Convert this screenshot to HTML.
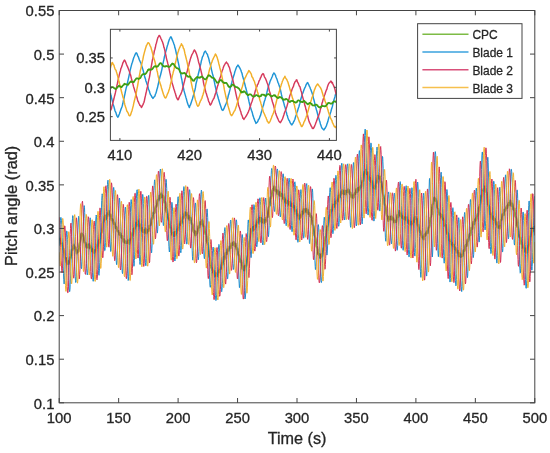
<!DOCTYPE html>
<html><head><meta charset="utf-8"><title>Pitch angle</title><style>html,body{margin:0;padding:0;background:#fff;}body{width:550px;height:453px;overflow:hidden;}svg{display:block;}</style></head><body><div id="w">
<svg width="550" height="453" viewBox="0 0 550 453">
<defs><clipPath id="cm"><rect x="59.2" y="10.5" width="475.6" height="392.3"/></clipPath><clipPath id="ci"><rect x="110.4" y="29.3" width="226.0" height="111.1"/></clipPath></defs>
<g clip-path="url(#cm)" fill="none" stroke-width="0.95" stroke-linejoin="round">
<path d="M59.2 240.2L59.5 238.9L59.7 238.8L60 238.5L60.2 239.6L60.5 241L60.7 243.1L61 243.7L61.2 243.4L61.5 242.8L61.7 242.7L62 243.1L62.2 244.4L62.5 246.3L62.7 246.2L63 248.7L63.2 249.4L63.5 249.5L63.7 248.8L64 251.4L64.2 252.9L64.5 254.9L64.7 257.4L65 258.2L65.2 258.1L65.5 258.4L65.7 257.8L66 258L66.2 259.9L66.5 261.9L66.7 262.6L67 264L67.2 262.1L67.5 262.6L67.7 261.6L68 261L68.2 262.5L68.5 264.2L68.7 263.9L69 262.7L69.2 261.8L69.5 261L69.7 257.9L70 258.5L70.2 258.5L70.5 258.6L70.7 257.8L71 256.1L71.2 254.3L71.5 251.8L71.7 249.5L72 250.4L72.2 249.2L72.5 250.3L72.7 249.6L73 248.8L73.2 246.6L73.5 245.5L73.7 244.5L74 245.6L74.2 246.5L74.5 248.6L74.7 247.6L75 248.3L75.2 247.4L75.5 247.1L75.7 247.6L76 249.8L76.2 250.8L76.5 252.3L76.7 253.7L77 251.9L77.2 252.2L77.5 250.5L77.7 250.7L78 251.2L78.2 252L78.5 251.5L78.7 250.1L79 247.9L79.2 245.9L79.5 244L79.7 243L80 242.2L80.2 241.7L80.5 240L80.7 239.3L81 237L81.2 234L81.5 233.3L81.7 233.4L82 233.7L82.2 235.3L82.5 235.7L82.7 234.7L83 235L83.2 235L83.5 236.3L83.7 237.4L84 239.8L84.2 241.4L84.5 242.7L84.7 242.7L85 242.6L85.2 242.3L85.5 242.6L85.7 244.1L86 245.7L86.2 246.8L86.5 247.6L86.7 244.7L87 244.8L87.2 244.4L87.5 245L87.7 245L88 246.9L88.2 247.8L88.5 246.9L88.7 245.1L89 244.7L89.2 243.8L89.5 245.3L89.7 245.8L90 248.5L90.2 248.4L90.5 247.8L90.7 247.1L91 246.1L91.2 246.9L91.5 248.5L91.7 249.2L92 251.3L92.2 251L92.5 251.3L92.7 251.5L93 249L93.2 250.5L93.5 251.5L93.7 251.5L94 252.8L94.2 253.1L94.5 253.2L94.7 251L95 249.9L95.2 249.9L95.5 250L95.7 250.7L96 250.6L96.2 250.5L96.5 247.9L96.7 247.3L97 244.9L97.2 244.3L97.5 245.4L97.7 245.9L98 244.6L98.2 244.7L98.5 242.2L98.7 240.8L99 240.7L99.2 240L99.5 241.4L99.7 241.7L100 242.8L100.2 240.4L100.5 237.6L100.7 235.2L101 233.5L101.2 233.1L101.5 232.7L101.7 232.7L102 231L102.2 228.7L102.5 226.1L102.7 223.4L103 222.1L103.2 221.9L103.5 222.1L103.7 221.3L104 219.9L104.2 219L104.5 218L104.7 215.5L105 216.4L105.2 217.7L105.5 218.3L105.7 218.7L106 219.6L106.2 218L106.5 215.4L106.7 214.9L107 214.6L107.2 213.8L107.5 216.4L107.7 214.7L108 214.3L108.2 212.6L108.5 211.9L108.7 210.6L109 211.7L109.2 213.5L109.5 214.5L109.7 215.1L110 216L110.2 214.3L110.5 214.8L110.7 214.5L111 216.1L111.2 217.9L111.5 219.7L111.7 220.5L112 220L112.2 219.3L112.5 219.2L112.7 219.2L113 219.8L113.2 221.7L113.5 223.1L113.7 224L114 223.8L114.2 223.1L114.5 222.4L114.7 223.4L115 224.3L115.2 225.4L115.5 228.2L115.7 227.7L116 227.6L116.2 226.7L116.5 227.3L116.7 227.1L117 229.3L117.2 230.6L117.5 231.3L117.7 231.2L118 231.6L118.2 230.8L118.5 230.9L118.7 232.3L119 233.1L119.2 234.6L119.5 235.2L119.7 235.2L120 234.1L120.2 233L120.5 234.5L120.7 233.5L121 236.1L121.2 237.5L121.5 238L121.7 237.1L122 236.7L122.2 236L122.5 236L122.7 237.9L123 239.4L123.2 240.8L123.5 242L123.7 240.7L124 240.6L124.2 239.5L124.5 240.3L124.7 241.3L125 242.8L125.2 243.1L125.5 243.2L125.7 242.2L126 241.6L126.2 241.2L126.5 241.6L126.7 241.9L127 243.4L127.2 243.1L127.5 242.4L127.7 242L128 240.8L128.2 239.8L128.4 240.1L128.7 242.4L128.9 242.8L129.2 242.7L129.4 244L129.7 241.5L129.9 239.7L130.2 239.3L130.4 238.5L130.7 240.3L130.9 239.1L131.2 238.8L131.4 237.9L131.7 235.7L131.9 235.1L132.2 232.8L132.4 233.3L132.7 234.3L132.9 234.7L133.2 234.2L133.4 232.3L133.7 231.3L133.9 228.3L134.2 228L134.4 228.5L134.7 228.5L134.9 228.7L135.2 227.9L135.4 226.3L135.7 224.3L135.9 223.4L136.2 222.7L136.4 224.2L136.7 223.9L136.9 225.9L137.2 224.9L137.4 223.1L137.7 221.1L137.9 220.4L138.2 221.9L138.4 222.9L138.7 224.8L138.9 225.2L139.2 226.2L139.4 224.8L139.7 224.8L139.9 224.1L140.2 225.9L140.4 228.2L140.7 229.3L140.9 230L141.2 230.4L141.4 229.2L141.7 229.3L141.9 227.7L142.2 230.3L142.4 231.7L142.7 231.8L142.9 232L143.2 232.3L143.4 230.2L143.7 229.6L143.9 230.3L144.2 230.8L144.4 232.4L144.7 232.5L144.9 232.8L145.2 232.1L145.4 230.5L145.7 228.5L145.9 230.2L146.2 231L146.4 231.8L146.7 233.5L146.9 231.6L147.2 232.3L147.4 229.9L147.7 230.3L147.9 229.7L148.2 229.8L148.4 231.1L148.7 231L148.9 229.9L149.2 228.3L149.4 225.6L149.7 225.3L149.9 225.4L150.2 225.4L150.4 225.5L150.7 225L150.9 224.3L151.2 222.1L151.4 219.4L151.7 218L151.9 219.2L152.2 218.1L152.4 218.9L152.7 217.6L152.9 215.4L153.2 214.2L153.4 212.4L153.7 212.6L153.9 213.2L154.2 212.5L154.4 213.2L154.7 212.4L154.9 209.9L155.2 207.8L155.4 207.6L155.7 206.1L155.9 206.6L156.2 206.9L156.4 206.8L156.7 205.5L156.9 204.3L157.2 202.6L157.4 200.5L157.7 199.7L157.9 200.8L158.2 200.5L158.4 200.6L158.7 200.4L158.9 199.3L159.2 196.8L159.4 195.3L159.7 196.5L159.9 195.9L160.2 197.4L160.4 198.4L160.7 197L160.9 194.5L161.2 193.2L161.4 194.2L161.7 194.5L161.9 195.7L162.2 197.3L162.4 197.3L162.7 196.1L162.9 196.7L163.2 195.6L163.4 196.1L163.7 197.5L163.9 200.2L164.2 201.2L164.4 202.5L164.7 201.8L164.9 202.1L165.2 201.6L165.4 202.8L165.7 204.3L165.9 207.2L166.2 209.9L166.4 212L166.7 210.1L166.9 210.3L167.2 211.8L167.4 213.5L167.7 215.3L167.9 217.9L168.2 218.5L168.4 219.7L168.7 220.1L168.9 220.4L169.2 220.2L169.4 221.9L169.7 224.5L169.9 227L170.2 227.9L170.4 227.6L170.7 227.8L170.9 228L171.2 227.8L171.4 229.1L171.7 232.1L171.9 233.8L172.2 234.9L172.4 234.3L172.7 233.2L172.9 232.9L173.2 232.8L173.4 233.8L173.7 235.1L173.9 235.8L174.2 236.3L174.4 234L174.7 233.1L174.9 232L175.2 233.1L175.4 233.3L175.7 233.9L175.9 234.8L176.2 233.6L176.4 231.7L176.7 230.9L176.9 229.4L177.2 229.7L177.4 230L177.7 230.3L177.9 229.8L178.2 228.1L178.4 227.2L178.7 225.1L178.9 224.4L179.2 224.1L179.4 224.4L179.7 224.8L179.9 225.5L180.2 224.7L180.4 222.3L180.7 221.4L180.9 221.3L181.2 220.7L181.4 221.8L181.7 222L181.9 222.8L182.2 221L182.4 218.9L182.7 216.8L182.9 217L183.2 217.9L183.4 217.9L183.7 218L183.9 217.7L184.2 215.2L184.4 214L184.7 213L184.9 212.1L185.2 212.8L185.4 214.5L185.7 215L185.9 214.8L186.2 214.3L186.4 213.4L186.7 212.7L186.9 213.6L187.2 215.6L187.4 217.5L187.7 218.4L187.9 217L188.2 217L188.4 216L188.7 215.5L188.9 216.6L189.2 218.2L189.4 220L189.7 219.1L189.9 219.4L190.2 218.1L190.4 217.3L190.7 218.3L190.9 219.5L191.2 220.6L191.4 222.8L191.7 224L191.9 223.4L192.2 224.3L192.4 224L192.7 225.2L192.9 227.3L193.2 230.4L193.4 231.3L193.7 231.9L193.9 232.6L194.2 230.8L194.4 230.6L194.7 230.8L194.9 233.5L195.2 234.6L195.4 235.7L195.7 235.4L195.9 234.2L196.2 232.5L196.4 231.6L196.7 232L196.9 232.4L197.2 233.6L197.4 232.2L197.7 231.1L197.9 229L198.2 228.4L198.4 226.1L198.7 227L198.9 227.9L199.2 227.5L199.4 227.6L199.7 225L199.9 224.1L200.2 222L200.4 222.3L200.7 222.6L200.9 223.1L201.2 224.4L201.4 223.8L201.7 222.3L201.9 221L202.2 219.9L202.4 220.9L202.7 223.5L202.9 223.9L203.2 225.9L203.4 226.1L203.7 226.6L203.9 226.1L204.2 226L204.4 226.4L204.7 229.1L204.9 232.1L205.2 233L205.4 234L205.7 233.4L205.9 232.5L206.2 234.3L206.4 235.9L206.7 237.9L206.9 240.5L207.2 242.6L207.4 243L207.7 243.8L207.9 244.1L208.2 244.5L208.4 248L208.7 250.8L208.9 253.5L209.2 256.1L209.4 256.7L209.7 257.6L209.9 258.4L210.2 259.3L210.4 260.8L210.7 263.9L210.9 267.1L211.2 267.8L211.4 267.7L211.7 267.6L211.9 267.7L212.2 268.2L212.4 269.8L212.7 270.9L212.9 272.5L213.2 272.8L213.4 272.4L213.7 270.6L213.9 271.2L214.2 271.3L214.4 273.9L214.7 275.4L214.9 276.3L215.2 275.7L215.4 274.1L215.7 273.8L215.9 272.8L216.2 273.8L216.4 274.2L216.7 275.5L216.9 276.2L217.2 276L217.4 273.5L217.7 273.2L217.9 272.6L218.2 270.8L218.4 272.2L218.7 272.4L218.9 272.6L219.2 271.2L219.4 269.8L219.7 268.8L219.9 268.1L220.2 268.1L220.4 268.7L220.7 269.2L220.9 268.7L221.2 267.5L221.4 265.4L221.7 264.1L221.9 262.5L222.2 263.8L222.4 264.8L222.7 264.2L222.9 262.5L223.2 262.2L223.4 259.4L223.7 256.7L223.9 257.6L224.2 258.4L224.4 258.8L224.7 259.2L224.9 257.9L225.2 256L225.4 253.2L225.7 252.6L225.9 253.2L226.2 254.1L226.4 254L226.7 254.2L226.9 253.7L227.2 250.8L227.4 249.2L227.7 249.3L227.9 249.7L228.2 250.2L228.4 250L228.7 251L228.9 249.2L229.2 248.6L229.4 246.8L229.7 246.4L229.9 246.9L230.2 247.2L230.4 248.3L230.7 248.2L230.9 246.5L231.2 245.3L231.4 243.2L231.7 243.6L231.9 243.9L232.2 244.2L232.4 245.1L232.7 244.5L232.9 243.3L233.2 242.3L233.4 242.2L233.7 241.9L233.9 243.5L234.2 244.1L234.4 245.8L234.7 246.2L234.9 245.2L235.2 244.1L235.4 243.4L235.7 244L235.9 246L236.2 247.2L236.4 248.4L236.7 249.6L236.9 248.3L237.2 249.3L237.4 248.1L237.7 250.4L237.9 251.7L238.2 254.2L238.4 254.8L238.7 255.5L238.9 255.1L239.2 254.9L239.4 256.1L239.7 258.3L239.9 259.3L240.2 261.8L240.4 262.2L240.7 262L240.9 262.5L241.2 260.1L241.4 261.5L241.7 262.5L241.9 265.1L242.2 266.5L242.4 268.9L242.7 266.7L242.9 266.8L243.2 266.4L243.4 266.3L243.7 268.3L243.9 270.5L244.2 270.6L244.4 270.1L244.7 268.8L244.9 266.2L245.2 265.4L245.4 265.9L245.7 266.5L245.9 266.4L246.2 266.5L246.4 265.3L246.7 263L246.9 260.9L247.2 258.6L247.4 257.4L247.7 255.9L247.9 255.1L248.2 254L248.4 250.3L248.7 247.8L248.9 244.2L249.2 241.7L249.4 241L249.7 239.4L249.9 238.2L250.2 236.5L250.4 234.4L250.7 233.3L250.9 229L251.2 229.3L251.4 229.6L251.7 231L251.9 230.9L252.2 229.5L252.4 230.2L252.7 227.6L252.9 227.2L253.2 226.6L253.4 227.7L253.7 229L253.9 230.1L254.2 229.6L254.4 227.5L254.7 226.6L254.9 225.3L255.2 225.7L255.4 226.4L255.7 227.4L255.9 226.7L256.2 225.9L256.4 224.3L256.7 222.6L256.9 221.3L257.2 222.6L257.4 222.2L257.7 223.4L257.9 222.8L258.2 222L258.4 218.6L258.7 219.2L258.9 217.6L259.2 217.7L259.4 219.5L259.7 221.6L259.9 220.9L260.2 219.3L260.4 218.6L260.7 218.7L260.9 217.6L261.2 219.3L261.4 220.6L261.7 222.8L261.9 221.5L262.2 221.5L262.4 219.4L262.7 218.9L262.9 220.2L263.2 221.3L263.4 221.5L263.7 223.4L263.9 223L264.2 221.2L264.4 220.3L264.7 219.7L264.9 219.6L265.2 220.6L265.4 221.6L265.7 222.1L265.9 220.8L266.2 220L266.4 217.7L266.7 217.4L266.9 217L267.2 216.7L267.4 217.5L267.7 216.9L267.9 214.6L268.2 210.6L268.4 209.6L268.7 207.5L268.9 206.8L269.2 206.4L269.4 206.2L269.7 205.6L269.9 203.1L270.2 200.1L270.4 198L270.7 197.1L270.9 197.5L271.2 198.4L271.4 196.7L271.7 196L271.9 193.8L272.2 191.3L272.4 190.2L272.7 189.5L272.9 188.6L273.2 189.1L273.4 190.1L273.7 189L273.9 187.9L274.2 186.4L274.4 186.3L274.7 187.5L274.9 188.5L275.2 189.7L275.4 191.1L275.7 191.4L275.9 189.6L276.2 189.9L276.4 189.7L276.7 189.9L276.9 191.9L277.2 193.3L277.4 194.1L277.7 193.6L277.9 191.6L278.2 190.7L278.4 191.9L278.7 192.3L278.9 193.9L279.2 194.9L279.4 195.7L279.7 193.6L279.9 193.6L280.2 192L280.4 192.9L280.7 194.3L280.9 194.4L281.2 196.3L281.4 196.1L281.7 195.4L281.9 194.6L282.2 193.8L282.4 194.5L282.7 196.7L282.9 198.5L283.2 198.8L283.4 198.4L283.7 199.6L283.9 198.2L284.2 197.7L284.4 197.9L284.7 199.7L284.9 201.7L285.2 201.9L285.4 202.9L285.7 201.2L285.9 200.4L286.2 199.5L286.4 200.3L286.7 201.7L286.9 203.4L287.2 203.4L287.4 202.8L287.7 202L287.9 201L288.2 201.6L288.4 201.6L288.7 202.6L288.9 204.1L289.2 205.1L289.4 203.4L289.7 202.6L289.9 201.7L290.2 202.3L290.4 203.3L290.7 204.2L290.9 205.5L291.2 206.1L291.4 205.4L291.7 204.2L291.9 203.7L292.2 203.5L292.4 204.8L292.7 206.9L292.9 206.8L293.2 207.4L293.4 205.8L293.7 205.8L293.9 205.6L294.2 206.3L294.4 208.8L294.7 209.8L294.9 211L295.2 211L295.4 210.1L295.7 210.6L295.9 209.8L296.2 211.3L296.4 212.3L296.7 214.3L296.9 215.1L297.2 215L297.4 214.1L297.7 213.9L297.9 214.9L298.2 215.3L298.4 216.8L298.7 217.8L298.9 219.4L299.2 218.2L299.4 216.6L299.7 215.8L299.9 215.1L300.2 216.1L300.4 217.3L300.7 217.6L300.9 216.6L301.2 215.2L301.4 214.2L301.7 212.9L301.9 211.5L302.2 213.3L302.4 214.6L302.7 213.9L302.9 213.6L303.2 211.3L303.4 210.9L303.7 209L303.9 209.1L304.2 210.4L304.4 212.6L304.7 211.4L304.9 210.5L305.2 210.2L305.4 209L305.7 209.4L305.9 208.6L306.2 209.8L306.4 211.6L306.7 212.4L306.9 211.9L307.2 211.3L307.4 209.3L307.7 209.8L307.9 211.2L308.2 213.2L308.4 214.2L308.7 214.1L308.9 213.3L309.2 213.2L309.4 212.7L309.7 213.9L309.9 213.8L310.2 216.4L310.4 216.4L310.7 217.1L310.9 216.7L311.2 216.1L311.4 215.9L311.7 217.2L311.9 219.4L312.2 221.6L312.4 224L312.7 224.6L312.9 224.9L313.2 225.8L313.4 226L313.7 227.8L313.9 230.3L314.2 232.9L314.4 235.1L314.7 235.3L314.9 236.5L315.2 237.1L315.4 237.9L315.7 239.2L315.9 241.3L316.2 244.3L316.4 246.3L316.7 247.2L316.9 246.8L317.2 247L317.4 248.8L317.7 249.6L317.9 252.6L318.2 254.4L318.4 254.2L318.7 255L318.9 254L319.2 253.6L319.4 253.7L319.7 255.1L319.9 257.5L320.2 257.9L320.4 258.1L320.7 256.4L320.9 255.4L321.2 254.6L321.4 254.1L321.7 254.8L321.9 256.7L322.2 256.7L322.4 255L322.7 253.4L322.9 251.5L323.2 250.3L323.4 248.2L323.7 248.8L323.9 249.3L324.2 247.4L324.4 246.1L324.7 241.5L324.9 240.9L325.2 238.4L325.4 236.6L325.7 237.6L325.9 237.3L326.2 236.1L326.4 233.8L326.7 230.4L326.9 227.6L327.2 226.1L327.4 225.7L327.7 225.9L327.9 225.1L328.2 224.2L328.4 222.6L328.7 219.9L328.9 218.8L329.2 217.5L329.4 215.7L329.7 216.1L329.9 215.5L330.2 214.6L330.4 213.7L330.7 211.1L330.9 209.7L331.2 209.8L331.4 210.7L331.7 210.8L331.9 210.8L332.2 210.5L332.4 208.6L332.7 206.8L332.9 205.9L333.2 204.8L333.4 206L333.7 206.3L333.9 207.2L334.2 206.2L334.4 203.8L334.7 203.5L334.9 201.6L335.2 203.1L335.4 203.5L335.7 203.7L335.9 203.6L336.2 202.9L336.4 201.5L336.7 199.9L336.9 200L337.2 199.5L337.4 201L337.7 201.5L337.9 200.1L338.2 199.8L338.4 197.2L338.7 195.2L338.9 195.6L339.2 196.2L339.4 197.5L339.7 197.1L339.9 197.4L340.2 195.8L340.4 193.9L340.7 192.8L340.9 192L341.2 192.1L341.4 193.5L341.7 193.9L341.9 193L342.2 191.6L342.4 189.9L342.7 190.5L342.9 191L343.2 191.4L343.4 193.4L343.7 194.3L343.9 193.4L344.2 192.8L344.4 191.7L344.7 190.3L344.9 191.5L345.2 193L345.4 194.2L345.7 194.6L345.9 192L346.2 191.5L346.4 190.7L346.7 190.6L346.9 191.4L347.2 191.2L347.4 192.2L347.7 191.7L347.9 191.6L348.2 189.1L348.4 189.5L348.7 189.6L348.9 190.6L349.2 191L349.4 193L349.7 194.1L349.9 192.5L350.2 192.4L350.4 192.3L350.7 193.6L350.9 194.9L351.2 196.6L351.4 197.4L351.7 197.6L351.9 196.7L352.2 196.1L352.4 195.2L352.7 196.1L352.9 195.8L353.2 198.2L353.4 197.7L353.7 197.4L353.9 195.2L354.2 194L354.4 193.6L354.7 192.7L354.9 193.8L355.2 194.3L355.4 194.2L355.7 192.2L355.9 191.2L356.2 189.8L356.4 189L356.7 189.8L356.9 190.1L357.2 192.3L357.4 191.7L357.7 191.4L357.9 188.6L358.2 187.5L358.4 188.1L358.7 187.9L358.9 189.9L359.2 190.1L359.4 189.9L359.7 188.8L359.9 187.1L360.2 186.9L360.4 186.1L360.7 185.8L360.9 187.7L361.2 186.7L361.4 186.5L361.7 184L361.9 182.3L362.2 182L362.4 180.7L362.7 181L362.9 181.3L363.2 180.9L363.4 180.1L363.7 176.4L363.9 174L364.2 173.3L364.4 171.6L364.7 172.4L364.9 173.4L365.2 172.7L365.4 171.7L365.7 170.5L365.9 169.7L366.2 170L366.4 171.4L366.7 173.5L366.9 174.7L367.2 174.4L367.4 174L367.7 174.1L367.9 172.7L368.2 174.1L368.4 175.8L368.7 177.3L368.9 178.7L369.2 179.7L369.4 178.1L369.7 177.5L369.9 177.3L370.2 178.3L370.4 179L370.7 181.8L370.9 182.1L371.2 182.2L371.4 181.6L371.7 180.8L371.9 180.8L372.2 183L372.4 184.4L372.7 186.1L372.9 187.8L373.2 187.2L373.4 187.3L373.7 186.5L373.9 186.1L374.2 187.6L374.4 187.4L374.7 189L374.9 187.9L375.2 187.2L375.4 185.7L375.7 183.6L375.9 182.2L376.2 182.6L376.4 183L376.7 182.7L376.9 181.8L377.2 180.5L377.4 178.4L377.7 175.5L377.9 175.7L378.2 176.4L378.4 177.2L378.7 177.4L378.9 178.5L379.2 176.8L379.4 177L379.7 177.3L379.9 176.3L380.2 179.1L380.4 180.9L380.7 182.2L380.9 182.1L381.2 182.2L381.4 181.7L381.7 183.3L381.9 185.6L382.2 187.8L382.4 190.5L382.7 192.8L382.9 194.1L383.2 194.6L383.4 194.9L383.7 196.1L383.9 197.4L384.2 199.2L384.4 203.2L384.7 205.1L384.9 204.3L385.2 204.7L385.4 205.6L385.7 207.1L385.9 209.2L386.2 212.2L386.4 213.9L386.7 215.6L386.9 216.1L387.2 215.7L387.4 216.8L387.7 217.4L387.9 218.9L388.2 219.6L388.4 221.1L388.7 219.7L388.9 219.3L389.2 216.4L389.4 216.4L389.7 217.3L389.9 217.6L390.2 219L390.4 218.6L390.7 219.6L390.9 218L391.2 216.4L391.4 216.1L391.7 216.7L391.9 218.7L392.2 219.6L392.4 219.5L392.7 219.9L392.9 219.8L393.2 218.7L393.4 218.2L393.7 219.7L393.9 221L394.2 222.6L394.4 222.1L394.7 222L394.9 221.7L395.2 220.4L395.4 220.4L395.7 221.8L395.9 221.6L396.2 222.3L396.4 221.4L396.7 219.8L396.9 218.2L397.2 215.9L397.4 215L397.7 216.9L397.9 216.7L398.2 217.4L398.4 216.1L398.7 214.4L398.9 212.8L399.2 211.6L399.4 210.6L399.7 212.8L399.9 213.2L400.2 214.8L400.4 216L400.7 214.2L400.9 214.3L401.2 213.2L401.4 214.6L401.7 215.9L401.9 217.7L402.2 218L402.4 217.9L402.7 217.8L402.9 216.1L403.2 216.3L403.4 217.8L403.7 218.5L403.9 219.4L404.2 219.5L404.4 219.4L404.7 217.9L404.9 217.2L405.2 216.9L405.4 218.7L405.7 218.9L405.9 219.1L406.2 220.3L406.4 219.6L406.7 218.6L406.9 217.2L407.2 218.9L407.4 219.6L407.7 221.2L407.9 221.6L408.2 222.8L408.4 221.9L408.7 221.7L408.9 220.4L409.2 220.5L409.4 222.4L409.7 223.4L409.9 224.9L410.2 224L410.4 223.5L410.7 222.3L410.9 221.9L411.2 222L411.4 223L411.7 224.5L411.9 224.6L412.2 224.3L412.4 222.7L412.7 220.4L412.9 220.7L413.2 221.6L413.4 221.8L413.7 222.4L413.9 222L414.2 220.2L414.4 217.9L414.7 217.3L414.9 216.7L415.2 216.8L415.4 217.8L415.7 218.8L415.9 219L416.2 219L416.4 218.4L416.7 218.6L416.9 219L417.2 221.1L417.4 223.9L417.7 225.3L417.9 225.1L418.2 226.2L418.4 224.7L418.7 226.9L418.9 227.3L419.2 229.1L419.4 230.4L419.7 231.5L419.9 232.2L420.2 231.9L420.4 231L420.7 231.6L420.9 233L421.2 234.8L421.4 235.8L421.7 236.3L421.9 237.5L422.2 236.5L422.4 236.3L422.7 236.8L422.9 237.6L423.2 238.1L423.4 239.3L423.7 239.5L423.9 237.6L424.2 236.1L424.4 235L424.7 234L424.9 234.2L425.2 235L425.4 235.9L425.7 235.3L425.9 234.7L426.2 232.5L426.4 232.1L426.7 231.7L426.9 231.1L427.2 233.1L427.4 232.8L427.7 233.1L427.9 231.3L428.2 229.3L428.4 228.2L428.7 227.1L428.9 227.5L429.2 227.6L429.4 226.7L429.7 225.3L429.9 222.3L430.2 220.5L430.4 217.7L430.7 217.6L430.9 217.1L431.2 216.8L431.4 214.9L431.7 214.3L431.9 209.8L432.2 207.2L432.4 204.7L432.7 204.8L432.9 203.6L433.2 204L433.4 202.1L433.7 201.1L433.9 198.9L434.2 198.1L434.4 197.3L434.7 197.9L434.9 200L435.2 200.3L435.4 200.7L435.7 201L435.9 199L436.2 200.1L436.4 200.6L436.7 202.3L436.9 205.3L437.2 207.5L437.4 207.9L437.7 208.2L437.9 208.4L438.2 208.5L438.4 209.2L438.7 210.7L438.9 212.6L439.2 214.1L439.4 214.9L439.7 214.2L439.9 213.3L440.2 213.6L440.4 213.5L440.7 214.8L440.9 216.2L441.2 217.9L441.4 215.7L441.7 215.9L441.9 215.1L442.2 214.8L442.4 216.9L442.7 218.1L442.9 219.5L443.2 219.5L443.4 220.1L443.7 219.1L443.9 219.1L444.2 219.8L444.4 221L444.7 223.6L444.9 225.9L445.2 226.5L445.4 226.2L445.7 224.9L445.9 226.5L446.2 227.5L446.4 228.8L446.7 230.9L446.9 233.2L447.2 233.2L447.4 233.9L447.7 232.7L447.9 232.9L448.2 234.5L448.4 235.7L448.7 238.4L448.9 240.1L449.2 239.7L449.4 240.5L449.7 239.4L449.9 240.1L450.2 241.1L450.4 242.5L450.7 244L450.9 244.2L451.2 244.4L451.4 243.4L451.7 243.6L451.9 243.1L452.2 242.8L452.4 245.2L452.7 246.2L452.9 246.4L453.2 246.4L453.4 245.6L453.7 244.4L453.9 244.8L454.2 246.3L454.4 247.4L454.7 249.3L454.9 249.6L455.2 248.8L455.4 247.9L455.7 247.9L455.9 248.6L456.2 249.7L456.4 250.8L456.7 252.7L456.9 252.7L457.2 252.3L457.4 251.8L457.7 250.5L457.9 251.5L458.2 252.7L458.4 254.1L458.7 256.4L458.9 255.8L459.2 253.7L459.4 253.8L459.7 253L459.9 254.4L460.2 255.2L460.4 256.4L460.7 257.2L460.9 257L461.2 255.8L461.4 254.7L461.7 254.4L461.9 255.1L462.2 255.2L462.4 256.3L462.7 255.9L462.9 254.4L463.2 253.1L463.4 250.5L463.7 250.1L463.9 250L464.2 251.2L464.4 251L464.7 250.7L464.9 249.3L465.2 246.4L465.4 245.9L465.7 244.7L465.9 245.2L466.2 245.8L466.4 246.4L466.7 245.5L466.9 244.3L467.2 241.7L467.4 240L467.7 239.5L467.9 240.4L468.2 241.3L468.4 240.6L468.7 239.1L468.9 237.7L469.2 235.8L469.4 234.4L469.7 233.8L469.9 233.4L470.2 234.8L470.4 235.3L470.7 233.7L470.9 230.6L471.2 229.8L471.4 227.7L471.7 229.4L471.9 228.9L472.2 228.5L472.4 228.9L472.7 226.6L472.9 225.2L473.2 223.1L473.4 221.7L473.7 222.7L473.9 222.5L474.2 224.2L474.4 223.2L474.7 221.3L474.9 219.3L475.2 219.6L475.4 219.1L475.7 218.3L475.9 220.5L476.2 220.2L476.4 219.4L476.7 218L476.9 216.1L477.2 215.6L477.4 214.5L477.7 213.8L477.9 215.9L478.2 215L478.4 212.7L478.7 210.8L478.9 208.3L479.2 206.9L479.4 206.2L479.7 205.8L479.9 205L480.2 203.9L480.4 202.6L480.7 199.6L480.9 198.4L481.2 195.5L481.4 195.9L481.7 195.9L481.9 195.8L482.2 196.2L482.4 194.1L482.7 191.6L482.9 190.1L483.2 189.9L483.4 189L483.7 190.8L483.9 190.8L484.2 189.8L484.4 189.3L484.7 188L484.9 186.5L485.2 186.5L485.4 188.6L485.7 190.3L485.9 190.7L486.2 191.9L486.4 192.2L486.7 192.4L486.9 192.8L487.2 196L487.4 198.4L487.7 201.4L487.9 204.4L488.2 204.6L488.4 205.1L488.7 205.3L488.9 205.6L489.2 207.3L489.4 209.9L489.7 211.8L489.9 214L490.2 213.5L490.4 213.8L490.7 212.9L490.9 213.9L491.2 214.7L491.4 217.3L491.7 218.4L491.9 218.8L492.2 218.9L492.4 217.8L492.7 216.7L492.9 216.1L493.2 216.8L493.4 219L493.7 220.1L493.9 220.3L494.2 220L494.4 218.4L494.7 219.5L494.9 218.7L495.2 220.4L495.4 222.7L495.7 222.9L495.9 224.4L496.2 224L496.4 222.6L496.7 222.1L496.9 223.2L497.2 224.1L497.4 227.4L497.7 227.9L497.9 227.6L498.2 226.8L498.4 226.6L498.7 226.8L498.9 226.1L499.2 227.5L499.4 227.7L499.7 228.6L499.9 226.9L500.2 225.5L500.4 222.1L500.7 220.4L500.9 219.7L501.2 220.5L501.4 219.4L501.7 219.8L501.9 218.1L502.2 215.9L502.4 214.1L502.7 214.2L502.9 214.8L503.2 214.4L503.4 215.3L503.7 215.3L503.9 212.8L504.2 211.2L504.4 209.4L504.7 209.5L504.9 210L505.2 210.6L505.4 210.8L505.7 209.8L505.9 208.5L506.2 207L506.4 206.6L506.7 205.9L506.9 206.3L507.2 207.8L507.4 208L507.7 206.6L507.9 205.2L508.2 204.3L508.4 203.2L508.7 202.7L508.9 204L509.2 204.6L509.4 205.3L509.7 203.5L509.9 202.9L510.2 201.5L510.4 200.5L510.7 202.2L510.9 203.6L511.2 203.9L511.4 206.1L511.7 204.3L511.9 203.6L512.2 203.3L512.5 204.2L512.7 205.4L513 207L513.2 209.3L513.5 209.6L513.7 210L514 210.1L514.2 208.8L514.5 208.4L514.7 211.4L515 213.4L515.2 215.9L515.5 216.9L515.7 216.5L516 216.6L516.2 217.5L516.5 219.1L516.7 220.3L517 224.6L517.2 226.1L517.5 227L517.7 227.5L518 227.1L518.2 228.5L518.5 230.8L518.7 233.4L519 235.5L519.2 236.8L519.5 237.1L519.7 237.9L520 237.3L520.2 237.3L520.5 237.8L520.7 240.3L521 241.5L521.2 244L521.5 243.4L521.7 242.4L522 242.3L522.2 244.2L522.5 244.9L522.7 245.6L523 247.8L523.2 247.9L523.5 247.3L523.7 247.4L524 248L524.2 247.9L524.5 248.4L524.7 249.8L525 251.1L525.2 251.6L525.5 249.6L525.7 248.3L526 249.7L526.2 249.3L526.5 251.1L526.7 251.7L527 252.8L527.2 251L527.5 249.9L527.7 248.4L528 246.7L528.2 245.4L528.5 246.3L528.7 245.7L529 244.7L529.2 243.9L529.5 241.9L529.7 239.3L530 236.5L530.2 236.9L530.5 236.7L530.7 235.9L531 233.9L531.2 233.8L531.5 231.6L531.7 229.6L532 227.9L532.2 228.5L532.5 230.8L532.7 231.5L533 231.2L533.2 229.7L533.5 228.4L533.7 226.6L534 226.3L534.2 226.4L534.5 227.7L534.7 227.8" stroke="#3F7A15" stroke-width="1.8"/>
<path d="M59.2 245.8L59.5 241.2L59.7 235.3L60 229.6L60.2 224.4L60.5 220.5L60.7 217.6L61 217.3L61.2 218.4L61.5 220.8L61.7 224.8L62 230.4L62.2 237.8L62.5 245.8L62.7 253.8L63 260.2L63.2 266.9L63.5 273.5L63.7 279.2L64 283.6L64.2 284L64.5 281L64.7 275.9L65 269.7L65.2 263.2L65.5 255.8L65.7 249.5L66 243.4L66.2 237.6L66.5 233.2L66.7 231L67 231.3L67.2 234.6L67.5 239.4L67.7 245.5L68 252.7L68.2 260L68.5 267.9L68.7 275.8L69 282.4L69.2 288L69.5 291.4L69.7 291.7L70 289.4L70.2 284.6L70.5 278.9L70.7 271.9L71 263.7L71.2 254.3L71.5 244.8L71.7 236.4L72 228.9L72.2 223L72.5 218.3L72.7 215.6L73 215.9L73.2 218.9L73.5 224L73.7 231.2L74 239.2L74.2 248L74.5 256.2L74.7 264.1L75 270.9L75.2 276.7L75.5 280.8L75.7 282.5L76 282L76.2 278L76.5 272.3L76.7 264.6L77 256.3L77.2 248.4L77.5 241.3L77.7 234.9L78 227.9L78.2 222.1L78.5 217.5L78.7 216.3L79 218.5L79.2 223.2L79.5 229L79.7 234.3L80 240.8L80.2 246.8L80.5 252.8L80.7 258.4L81 264L81.2 267.7L81.5 268.7L81.7 266.6L82 261.7L82.2 255.8L82.5 248.9L82.7 242L83 234.4L83.2 226.5L83.5 219.1L83.7 211.8L84 207.1L84.2 205.6L84.5 207.7L84.7 212.5L85 218.7L85.2 225.3L85.5 232.4L85.7 240L86 248.2L86.2 256.2L86.5 263.7L86.7 268.6L87 272.8L87.2 275L87.5 274.7L87.7 272.2L88 268.1L88.2 262.5L88.5 255.6L88.7 247.7L89 240.3L89.2 233L89.5 226.8L89.7 221.9L90 218.7L90.2 217.8L90.5 219.5L90.7 223.1L91 227.9L91.2 234.1L91.5 241.8L91.7 249.3L92 258.2L92.2 265.8L92.5 272.4L92.7 277.5L93 280.8L93.2 281.3L93.5 279.8L93.7 276L94 270.9L94.2 264.2L94.5 257L94.7 248.9L95 241L95.2 233.8L95.5 226.8L95.7 221L96 216.7L96.2 215L96.5 216.3L96.7 221L97 227.1L97.2 234.6L97.5 242L97.7 249.7L98 257L98.2 264.2L98.5 270.5L98.7 274.4L99 275.3L99.2 273.2L99.5 268.8L99.7 262.7L100 256L100.2 248L100.5 238.4L100.7 230L101 222.8L101.2 215.3L101.5 207.9L101.7 200.6L102 195.4L102.2 193.8L102.5 195.7L102.7 200.8L103 207.4L103.2 215.4L103.5 223L103.7 230L104 237L104.2 243.1L104.5 247.7L104.7 250.7L105 250.4L105.2 247.1L105.5 242.5L105.7 236L106 228.9L106.2 220.5L106.5 211.6L106.7 203.6L107 196L107.2 189.7L107.5 184.5L107.7 181.2L108 180.2L108.2 182.3L108.5 186.8L108.7 193.7L109 202.3L109.2 211.6L109.5 220.8L109.7 229.8L110 237.8L110.2 244L110.5 248.9L110.7 251.5L111 250.7L111.2 247.1L111.5 241.3L111.7 234.5L112 226.9L112.2 218.6L112.5 211L112.7 203.9L113 197.2L113.2 191.2L113.5 188L113.7 187.4L114 189.8L114.2 194.6L114.5 201.5L114.7 210.2L115 219.8L115.2 230.3L115.5 239.8L115.7 248.3L116 255.1L116.2 260.7L116.5 264L116.7 264.7L117 262.6L117.2 257.4L117.5 250.5L117.7 242.1L118 233.6L118.2 224.5L118.5 216.3L118.7 208.7L119 202.8L119.2 198.9L119.5 198L119.7 200.2L120 204.5L120.2 210.7L120.5 218.2L120.7 226.7L121 236.1L121.2 245.4L121.5 253.7L121.7 261.2L122 267.4L122.2 271.8L122.5 273.6L122.7 272.4L123 268.7L123.2 262.4L123.5 255L123.7 246.4L124 237.8L124.2 229.7L124.5 221.9L124.7 215.4L125 210.6L125.2 207.6L125.5 207.1L125.7 209.6L126 214.4L126.2 221.6L126.5 229.8L126.7 239.1L127 248.8L127.2 258.4L127.5 266.6L127.7 273.3L128 278.2L128.2 280.5L128.4 279.9L128.7 276.9L128.9 271.1L129.2 263.1L129.4 253.3L129.7 242.2L129.9 231L130.2 221.2L130.4 212.5L130.7 205.8L130.9 201.3L131.2 199.6L131.4 201.2L131.7 204.8L131.9 211.5L132.2 219.2L132.4 227.3L132.7 236L132.9 243.8L133.2 251.4L133.4 258.4L133.7 263.7L133.9 266.3L134.2 265.1L134.4 260.5L134.7 254.2L134.9 246.8L135.2 239L135.4 230.1L135.7 220.9L135.9 212.1L136.2 204.3L136.4 198.4L136.7 193L136.9 190L137.2 189.7L137.4 191.6L137.7 196.6L137.9 203.4L138.2 211.9L138.4 221.5L138.7 231.8L138.9 241.2L139.2 249.2L139.4 256.1L139.7 261.4L139.9 264.4L140.2 264.6L140.4 261L140.7 254.7L140.9 246.9L141.2 237.7L141.4 228.1L141.7 218.4L141.9 209.6L142.2 201.9L142.4 196.9L142.7 194.4L142.9 195.1L143.2 198.2L143.4 203.6L143.7 210.1L143.9 217.6L144.2 226.5L144.4 235.5L144.7 244.5L144.9 252.1L145.2 258.3L145.4 262.5L145.7 265.4L145.9 265.8L146.2 263.5L146.4 258.8L146.7 251.5L146.9 243.2L147.2 233.6L147.4 224.1L147.7 215L147.9 207.3L148.2 201L148.4 197.1L148.7 195.3L148.9 196.3L149.2 199.9L149.4 204.9L149.7 211L149.9 218.1L150.2 225.8L150.4 232.8L150.7 239L150.9 245L151.2 249.8L151.4 252.9L151.7 252.4L151.9 248.5L152.2 242.6L152.4 235.8L152.7 228.9L152.9 220.9L153.2 212L153.4 203.6L153.7 197L153.9 190.5L154.2 185.5L154.4 181.8L154.7 179.8L154.9 181.3L155.2 185.1L155.4 190.7L155.7 197.1L155.9 204.4L156.2 211.4L156.4 218.2L156.7 224.6L156.9 229.6L157.2 232.6L157.4 233.1L157.7 229.9L157.9 225.2L158.2 219.6L158.4 213.3L158.7 206.2L158.9 198.8L159.2 190.8L159.4 183.9L159.7 178.1L159.9 173.5L160.2 170.3L160.4 169L160.7 169.7L160.9 171.9L161.2 176.2L161.4 181.9L161.7 189.4L161.9 197L162.2 204.1L162.4 210.1L162.7 215.7L162.9 220.6L163.2 224.1L163.4 225.6L163.7 225L163.9 221.5L164.2 216.9L164.4 211.4L164.7 205L164.9 198.8L165.2 193.3L165.4 187.7L165.7 182.7L165.9 179.4L166.2 179.4L166.4 182.2L166.7 188.3L166.9 194.6L167.2 200.9L167.4 207.4L167.7 214.6L167.9 222.1L168.2 228.5L168.4 233.9L168.7 240.3L168.9 246.5L169.2 250.6L169.4 252L169.7 249.8L169.9 245.2L170.2 239.7L170.4 233.8L170.7 227.1L170.9 220.5L171.2 214.4L171.4 208.8L171.7 204.1L171.9 202.3L172.2 203.5L172.4 207L172.7 211.8L172.9 217.9L173.2 223.9L173.4 230.6L173.7 237.8L173.9 245.4L174.2 251.6L174.4 257.1L174.7 260L174.9 261L175.2 259.7L175.4 257.4L175.7 253L175.9 247.7L176.2 240.9L176.4 233.8L176.7 225.8L176.9 218.4L177.2 212L177.4 206.1L177.7 201L177.9 197.3L178.2 196.7L178.4 198.6L178.7 203.4L178.9 209.9L179.2 216.9L179.4 224.8L179.7 232.5L179.9 239.5L180.2 245.5L180.4 250.4L180.7 252.6L180.9 252.8L181.2 250.4L181.4 245.9L181.7 240L181.9 233.4L182.2 225.7L182.4 217L182.7 209.2L182.9 201.9L183.2 195.8L183.4 191.3L183.7 187.9L183.9 186.6L184.2 187.8L184.4 191.5L184.7 197.2L184.9 203.9L185.2 210.8L185.4 217.7L185.7 224.9L185.9 231.1L186.2 236.8L186.4 241.2L186.7 244.1L186.9 244.1L187.2 241.9L187.4 237.2L187.7 231.3L187.9 224.3L188.2 217L188.4 210.1L188.7 203.3L188.9 197.7L189.2 192.5L189.4 189.8L189.7 189.7L189.9 191.7L190.2 196L190.4 201.2L190.7 207.2L190.9 214.7L191.2 222.4L191.4 230L191.7 236.7L191.9 243.2L192.2 250.2L192.4 256.2L192.7 259.9L192.9 260.2L193.2 256.4L193.4 250.6L193.7 243.1L193.9 235.5L194.2 227.3L194.4 220L194.7 213.2L194.9 207.9L195.2 204L195.4 202.9L195.7 204L195.9 208L196.2 212.7L196.4 218.2L196.7 224.5L196.9 231.1L197.2 238.7L197.4 246.1L197.7 252.6L197.9 257.4L198.2 259.9L198.4 259.3L198.7 256.4L198.9 251.6L199.2 245.7L199.4 239.4L199.7 231.5L199.9 223.3L200.2 214.3L200.4 205.9L200.7 199.1L200.9 194.7L201.2 191.6L201.4 190.2L201.7 191.7L201.9 194.9L202.2 200.6L202.4 208.5L202.7 217.7L202.9 226.9L203.2 235L203.4 242L203.7 248.6L203.9 254L204.2 257.8L204.4 258.7L204.7 256.9L204.9 253L205.2 248.1L205.4 242.5L205.7 235.7L205.9 229L206.2 223.5L206.4 217.6L206.7 212.8L206.9 209.2L207.2 209L207.4 212.1L207.7 217.7L207.9 224.9L208.2 232.4L208.4 241.2L208.7 251.4L208.9 260.6L209.2 267.6L209.4 274L209.7 279.9L209.9 285.1L210.2 287.3L210.4 287.2L210.7 284.6L210.9 280.3L211.2 276.3L211.4 271.5L211.7 266.2L211.9 261.8L212.2 257.8L212.4 253.9L212.7 250.5L212.9 247.8L213.2 247.1L213.4 248.6L213.7 252.1L213.9 257.5L214.2 263.6L214.4 271L214.7 278.6L214.9 285.5L215.2 291.1L215.4 295.8L215.7 299.1L215.9 300.6L216.2 299.9L216.4 298L216.7 294.2L216.9 288.9L217.2 281.7L217.4 274.2L217.7 266.5L217.9 260.1L218.2 254.1L218.4 249.2L218.7 245.8L218.9 244.4L219.2 245.2L219.4 247.9L219.7 252.6L219.9 257.7L220.2 263.6L220.4 269.8L220.7 276.1L220.9 281.8L221.2 286.5L221.4 290.2L221.7 291.7L221.9 290.6L222.2 287.6L222.4 283.5L222.7 277.8L222.9 271.5L223.2 264.5L223.4 256.2L223.7 248.4L223.9 241.5L224.2 235.7L224.4 231.4L224.7 228.6L224.9 227.6L225.2 229.3L225.4 233.2L225.7 238.8L225.9 245.7L226.2 252.7L226.4 259.3L226.7 265.6L226.9 271.5L227.2 276.3L227.4 278.7L227.7 278.8L227.9 275.9L228.2 271.8L228.4 267L228.7 261.5L228.9 254.7L229.2 247.5L229.4 240.8L229.7 234.4L229.9 229.1L230.2 224.8L230.4 221.5L230.7 220.1L230.9 220.7L231.2 223.3L231.4 228.1L231.7 233.9L231.9 240.2L232.2 246.7L232.4 252.9L232.7 258L232.9 263.3L233.2 267.1L233.4 269.3L233.7 269.5L233.9 267.4L234.2 263.7L234.4 258.4L234.7 252.7L234.9 246.3L235.2 239.9L235.4 233.2L235.7 227L235.9 222.5L236.2 219.9L236.4 219.9L236.7 222.1L236.9 226.3L237.2 230.7L237.4 237.1L237.7 244.1L237.9 252.3L238.2 260.2L238.4 266.9L238.7 273L238.9 279L239.2 283.9L239.4 287.6L239.7 287.6L239.9 285L240.2 279.8L240.4 273.8L240.7 266.8L240.9 259.4L241.2 252.2L241.4 245.5L241.7 240.1L241.9 236L242.2 234.5L242.4 234.8L242.7 238.3L242.9 243.6L243.2 249.6L243.4 257.1L243.7 265.8L243.9 274.6L244.2 282.8L244.4 290.4L244.7 295.8L244.9 298.7L245.2 299L245.4 297.1L245.7 293L245.9 287.6L246.2 281.1L246.4 273L246.7 263.9L246.9 254.9L247.2 246.6L247.4 239.1L247.7 231.3L247.9 224.4L248.2 220.3L248.4 219.9L248.7 223.4L248.9 227.7L249.2 232.5L249.4 236.5L249.7 240.8L249.9 245L250.2 247.4L250.4 251.1L250.7 255.1L250.9 257.6L251.2 257.5L251.4 254.1L251.7 249.1L251.9 244L252.2 238L252.4 232L252.7 225.2L252.9 218.9L253.2 213.6L253.4 209.1L253.7 206.1L253.9 204.6L254.2 205.2L254.4 207L254.7 210.7L254.9 215.1L255.2 220L255.4 225.5L255.7 230.8L255.9 235.8L256.2 240.8L256.4 244.5L256.7 246.8L256.9 246.6L257.2 244.5L257.4 240.8L257.7 236.3L257.9 231.5L258.2 225.5L258.4 219.2L258.7 212.9L258.9 207L259.2 203L259.4 200.1L259.7 198.4L259.9 197.8L260.2 199.1L260.4 201.6L260.7 205.4L260.9 210.8L261.2 216.8L261.4 223L261.7 229.1L261.9 235L262.2 239.4L262.4 242.7L262.7 244.7L262.9 245L263.2 243.8L263.4 240.6L263.7 235.9L263.9 229.9L264.2 223L264.4 216.7L264.7 211.1L264.9 205.9L265.2 202.3L265.4 199.1L265.7 198L265.9 199.3L266.2 202L266.4 205.5L266.7 209L266.9 212.8L267.2 217.4L267.4 222.5L267.7 227.3L267.9 232L268.2 235.5L268.4 236.7L268.7 234.5L268.9 230.7L269.2 225.4L269.4 219.8L269.7 213.7L269.9 206.8L270.2 198.6L270.4 191.1L270.7 185.1L270.9 180L271.2 174.6L271.4 170.6L271.7 168.4L271.9 168.5L272.2 171L272.4 176L272.7 181.4L272.9 187.2L273.2 192.8L273.4 197.3L273.7 201.3L273.9 205.4L274.2 208.9L274.4 211.2L274.7 211.6L274.9 209.9L275.2 206.3L275.4 201.7L275.7 196.4L275.9 190.4L276.2 184.7L276.4 179.8L276.7 174.9L276.9 171.2L277.2 169.1L277.4 169L277.7 170.7L277.9 173.9L278.2 177.9L278.4 183.2L278.7 188.5L278.9 194.9L279.2 200.5L279.4 206.2L279.7 211.2L279.9 214.5L280.2 216.5L280.4 216.9L280.7 215.1L280.9 212L281.2 207.3L281.4 202.7L281.7 197.6L281.9 192.3L282.2 186.8L282.4 181.5L282.7 177.7L282.9 174.7L283.2 173.8L283.4 175L283.7 178.4L283.9 182.2L284.2 186.9L284.4 192.6L284.7 198.9L284.9 206.2L285.2 212.4L285.4 218L285.7 221.8L285.9 224.2L286.2 225.7L286.4 224.8L286.7 222.3L286.9 218.4L287.2 213L287.4 207.5L287.7 201.2L287.9 194.7L288.2 189.1L288.4 184.1L288.7 180.8L288.9 178.7L289.2 178.2L289.4 179.7L289.7 182.8L289.9 187.3L290.2 193.3L290.4 199.9L290.7 207.2L290.9 214L291.2 220.2L291.4 225.4L291.7 229.1L291.9 231.6L292.2 231.7L292.4 229.8L292.7 225.7L292.9 220.7L293.2 215L293.4 208.4L293.7 201.4L293.9 195.1L294.2 189.3L294.4 184.5L294.7 182.1L294.9 181.8L295.2 183.9L295.4 187.7L295.7 192.7L295.9 198.6L296.2 205.4L296.4 213.2L296.7 221.2L296.9 228.3L297.2 234.3L297.4 238.8L297.7 241.2L297.9 242.3L298.2 241.3L298.4 238.5L298.7 233.9L298.9 228L299.2 221.3L299.4 214.8L299.7 208.8L299.9 203.2L300.2 198.5L300.4 193.9L300.7 191.1L300.9 189.6L301.2 191L301.4 194.7L301.7 199.6L301.9 205.2L302.2 211.4L302.4 217.7L302.7 224.2L302.9 229.8L303.2 234L303.4 237.3L303.7 238.2L303.9 237.2L304.2 234.2L304.4 230.1L304.7 224.4L304.9 217.6L305.2 210.8L305.4 203.2L305.7 196.2L305.9 190.5L306.2 186.3L306.4 184L306.7 183.6L306.9 185.5L307.2 188.9L307.4 193.3L307.7 199.5L307.9 206.4L308.2 214.1L308.4 221.5L308.7 227.8L308.9 233.5L309.2 238.7L309.4 242.6L309.7 243.6L309.9 241.8L310.2 237.7L310.4 231.9L310.7 226.4L310.9 220L311.2 212.7L311.4 204.8L311.7 197.7L311.9 192L312.2 188.9L312.4 189L312.7 192.3L312.9 198.3L313.2 205L313.4 211.9L313.7 219.9L313.9 229.3L314.2 238.3L314.4 246.8L314.7 254.2L314.9 260.7L315.2 266.3L315.4 269.6L315.7 269.4L315.9 266.4L316.2 261.9L316.4 257L316.7 251.7L316.9 246.2L317.2 241L317.4 236.3L317.7 232L317.9 227.1L318.2 224.6L318.4 224.7L318.7 227.2L318.9 232.5L319.2 238.7L319.4 245.2L319.7 252.5L319.9 259.3L320.2 266.1L320.4 272L320.7 277L320.9 280.8L321.2 282.5L321.4 282.6L321.7 280.5L321.9 276.4L322.2 271.1L322.4 263.8L322.7 255.1L322.9 247.1L323.2 239.4L323.4 232.5L323.7 225.8L323.9 220.6L324.2 217.4L324.4 217.2L324.7 220L324.9 223.8L325.2 228.6L325.4 232.5L325.7 237L325.9 241.9L326.2 245.8L326.4 249.9L326.7 253.1L326.9 255.1L327.2 253.7L327.4 250L327.7 243.8L327.9 238L328.2 231.6L328.4 225.5L328.7 217.7L328.9 210.4L329.2 203.9L329.4 197.8L329.7 192.8L329.9 189.1L330.2 187.7L330.4 189.1L330.7 192.5L330.9 197.1L331.2 202.6L331.4 208.4L331.7 214.1L331.9 219.8L332.2 225.1L332.4 229.6L332.7 232.6L332.9 233.7L333.2 232.3L333.4 228.8L333.7 223.9L333.9 218.7L334.2 212.2L334.4 204.7L334.7 197.4L334.9 191L335.2 184.9L335.4 180.3L335.7 176.9L335.9 175.3L336.2 176.3L336.4 179.3L336.7 184.2L336.9 189.6L337.2 196.2L337.4 202.5L337.7 209L337.9 215.1L338.2 220.6L338.4 224.5L338.7 226.3L338.9 225.6L339.2 222.5L339.4 218.2L339.7 212.4L339.9 205.5L340.2 197.9L340.4 189.7L340.7 181.4L340.9 174L341.2 169L341.4 165.2L341.7 163.2L341.9 163.5L342.2 165.9L342.4 170.4L342.7 176.1L342.9 183.1L343.2 191L343.4 198.4L343.7 205.8L343.9 211.8L344.2 216.2L344.4 219.1L344.7 220L344.9 219.1L345.2 216.2L345.4 211.5L345.7 205.6L345.9 198.5L346.2 191L346.4 183.5L346.7 176.5L346.9 170.7L347.2 166.5L347.4 164.1L347.7 163.8L347.9 165.1L348.2 168.3L348.4 173.2L348.7 179.7L348.9 186.9L349.2 194.6L349.4 202.1L349.7 209.1L349.9 215.1L350.2 221.2L350.4 225.5L350.7 227.3L350.9 226.3L351.2 221.9L351.4 215.2L351.7 207.4L351.9 198.8L352.2 191.2L352.4 183.8L352.7 177L352.9 170.7L353.2 165.1L353.4 162.7L353.7 162.5L353.9 165.9L354.2 171.4L354.4 178.4L354.7 186.1L354.9 193.6L355.2 201.6L355.4 209.2L355.7 215.8L355.9 221.8L356.2 225.2L356.4 225.9L356.7 223.8L356.9 219.9L357.2 212.8L357.4 204.6L357.7 195.7L357.9 186.5L358.2 177.5L358.4 169.2L358.7 161.6L358.9 155.8L359.2 151.7L359.4 150.6L359.7 153L359.9 158.4L360.2 165.8L360.4 174.1L360.7 183.1L360.9 193L361.2 202.7L361.4 211.8L361.7 218.4L361.9 222.9L362.2 223.9L362.4 221.3L362.7 216.3L362.9 209.2L363.2 200.2L363.4 189.8L363.7 177.9L363.9 164.4L364.2 152L364.4 142.2L364.7 135.3L364.9 130.3L365.2 129.1L365.4 131L365.7 135.6L365.9 143L366.2 152.4L366.4 163.6L366.7 175.4L366.9 186.4L367.2 196.7L367.4 205.1L367.7 211.3L367.9 214.8L368.2 215.1L368.4 212.8L368.7 207.7L368.9 200.6L369.2 192.1L369.4 182.7L369.7 174L369.9 165.3L370.2 157.6L370.4 150.8L370.7 145.1L370.9 142.9L371.2 143.7L371.4 147.6L371.7 153.9L371.9 162.3L372.2 172L372.4 183L372.7 193.4L372.9 202.4L373.2 210.5L373.4 216.4L373.7 219.9L373.9 221.1L374.2 220.1L374.4 216.4L374.7 210.5L374.9 203L375.2 194L375.4 184.1L375.7 176.1L375.9 169.4L376.2 162.8L376.4 156L376.7 150.5L376.9 147.4L377.2 147L377.4 150.4L377.7 156.3L377.9 163.8L378.2 171.5L378.4 180.1L378.7 188.8L378.9 196.9L379.2 203.4L379.4 208.1L379.7 211.1L379.9 210.9L380.2 207.7L380.4 202.7L380.7 197.2L380.9 191.2L381.2 184.4L381.4 177.5L381.7 171L381.9 164.8L382.2 159.3L382.4 156.4L382.7 157L382.9 161.6L383.2 168.7L383.4 176.3L383.7 183.9L383.9 191.5L384.2 200.9L384.4 209.9L384.7 217.9L384.9 225.1L385.2 232.1L385.4 237.8L385.7 241.1L385.9 241.3L386.2 238.5L386.4 233.1L386.7 227L386.9 220L387.2 213.8L387.4 208.8L387.7 203.9L387.9 199L388.2 194.6L388.4 192.2L388.7 191.9L388.9 194.4L389.2 198.4L389.4 204L389.7 209.8L389.9 215.8L390.2 222.6L390.4 228.7L390.7 234.4L390.9 238.8L391.2 242.1L391.4 243.9L391.7 243.3L391.9 240.6L392.2 236.5L392.4 231.4L392.7 226L392.9 219.7L393.2 213L393.4 206.7L393.7 201.4L393.9 196.9L394.2 193.8L394.4 193.2L394.7 194.7L394.9 198.1L395.2 203.6L395.4 209.5L395.7 216L395.9 223.3L396.2 231.3L396.4 238.5L396.7 244.8L396.9 248.6L397.2 250.3L397.4 249.5L397.7 245.6L397.9 240.4L398.2 233.8L398.4 226.7L398.7 218L398.9 208.6L399.2 199.7L399.4 192.1L399.7 186.5L399.9 183.1L400.2 181.6L400.4 182.8L400.7 185.6L400.9 190.5L401.2 197.6L401.4 205.5L401.7 214.7L401.9 223.9L402.2 232.2L402.4 239.9L402.7 245.2L402.9 249.3L403.2 250.3L403.4 249.1L403.7 245.9L403.9 240.4L404.2 233.4L404.4 225.4L404.7 217.4L404.9 208.3L405.2 200.5L405.4 193.8L405.7 189.1L405.9 186.5L406.2 185.7L406.4 187.7L406.7 191.9L406.9 197.7L407.2 205.8L407.4 215L407.7 224.7L407.9 234.3L408.2 242.4L408.4 249.5L408.7 254.4L408.9 256.9L409.2 256.8L409.4 254.4L409.7 249.3L409.9 242.7L410.2 234.5L410.4 225.8L410.7 216.8L410.9 208.7L411.2 200.5L411.4 194.4L411.7 190.1L411.9 187.7L412.2 189.1L412.4 192.7L412.7 198.9L412.9 205.8L413.2 213.6L413.4 221.9L413.7 230.9L413.9 239.4L414.2 247.2L414.4 252.5L414.7 255.5L414.9 256.1L415.2 253.5L415.4 248.5L415.7 241.7L415.9 233.4L416.2 225L416.4 215.6L416.7 205.8L416.9 196.6L417.2 188.1L417.4 183.3L417.7 182.1L417.9 184.1L418.2 189.8L418.4 197.3L418.7 205.8L418.9 215.2L419.2 225.1L419.4 236.6L419.7 247L419.9 255.8L420.2 264.1L420.4 271.3L420.7 276L420.9 277.4L421.2 274.4L421.4 268.5L421.7 259.5L421.9 248.8L422.2 237.6L422.4 227.6L422.7 217.2L422.9 208L423.2 200.7L423.4 195.4L423.7 193.2L423.9 194.5L424.2 199.3L424.4 206.6L424.7 215.7L424.9 226.6L425.2 237.8L425.4 248.2L425.7 258.3L425.9 266.8L426.2 272.8L426.4 276.1L426.7 275.8L426.9 272L427.2 265.3L427.4 257.2L427.7 247L427.9 235.6L428.2 224.5L428.4 214L428.7 204.3L428.9 194.6L429.2 186L429.4 179.8L429.7 178.4L429.9 181.8L430.2 188.5L430.4 196.9L430.7 205.3L430.9 215L431.2 225.2L431.4 234.9L431.7 244L431.9 252.1L432.2 256.8L432.4 257L432.7 252L432.9 243.1L433.2 233.2L433.4 222.2L433.7 210.4L433.9 197.3L434.2 184L434.4 171.7L434.7 162.5L434.9 155.4L435.2 151.6L435.4 151.7L435.7 154.8L435.9 160.8L436.2 170.4L436.4 181.8L436.7 195.8L436.9 210.3L437.2 222.7L437.4 234.3L437.7 243.4L437.9 250.6L438.2 255.1L438.4 256.7L438.7 253.9L438.9 247.8L439.2 238.9L439.4 228L439.7 217L439.9 205L440.2 194.3L440.4 184.8L440.7 177.4L440.9 173.1L441.2 172.2L441.4 174.7L441.7 180.1L441.9 187.5L442.2 196.4L442.4 206.5L442.7 217.8L442.9 229.1L443.2 239.8L443.4 248.3L443.7 255.5L443.9 260.8L444.2 263.2L444.4 261.6L444.7 256.7L444.9 249.4L445.2 241L445.4 232L445.7 222.5L445.9 213.2L446.2 204.4L446.4 197L446.7 191.3L446.9 189.5L447.2 191.1L447.4 195.7L447.7 202.7L447.9 211.5L448.2 221.3L448.4 232.8L448.7 245L448.9 256.8L449.2 266.6L449.4 274.1L449.7 279.6L449.9 282L450.2 281.9L450.4 278.5L450.7 272.5L450.9 264.5L451.2 254.9L451.4 244.5L451.7 235L451.9 226.2L452.2 218.5L452.4 212.3L452.7 208.4L452.9 207.7L453.2 210.3L453.4 215.6L453.7 222L453.9 230.1L454.2 239.5L454.4 249.8L454.7 259.5L454.9 267.8L455.2 274.8L455.4 280.7L455.7 284.2L455.9 285.8L456.2 284.1L456.4 279.8L456.7 273.3L456.9 265.1L457.2 256L457.4 246.6L457.7 237.9L457.9 230.1L458.2 223.3L458.4 219.3L458.7 217.7L458.9 219L459.2 222.5L459.4 228.2L459.7 235.4L459.9 244L460.2 253.5L460.4 263.7L460.7 273.1L460.9 280.6L461.2 286.5L461.4 290L461.7 291.6L461.9 290.2L462.2 286.8L462.4 280.6L462.7 272.3L462.9 262.6L463.2 251.6L463.4 241.4L463.7 232.4L463.9 224.7L464.2 218.5L464.4 214.3L464.7 212.4L464.9 213.7L465.2 217.8L465.4 224.2L465.7 232L465.9 240.5L466.2 249.4L466.4 257.9L466.7 265L466.9 271.8L467.2 276L467.4 277.7L467.7 275.9L467.9 271L468.2 264.8L468.4 257.8L468.7 249.4L468.9 239.8L469.2 230L469.4 221.8L469.7 214L469.9 207.4L470.2 202.7L470.4 199.6L470.7 199.5L470.9 202.8L471.2 208L471.4 214.6L471.7 221.6L471.9 228.8L472.2 236.3L472.4 243L472.7 249.2L472.9 254.5L473.2 257.7L473.4 257.3L473.7 254.2L473.9 248.9L474.2 242.2L474.4 234.6L474.7 226.7L474.9 218L475.2 209.7L475.4 202.4L475.7 195.9L475.9 191.1L476.2 188.5L476.4 188.1L476.7 191.2L476.9 195.8L477.2 201L477.4 206.5L477.7 212.4L477.9 219.1L478.2 226.2L478.4 232.4L478.7 237.8L478.9 241.2L479.2 242.1L479.4 240L479.7 235.3L479.9 229.1L480.2 221.2L480.4 211.3L480.7 200.2L480.9 188.3L481.2 178.1L481.4 169.6L481.7 162.1L481.9 156L482.2 152.1L482.4 152L482.7 155.8L482.9 163L483.2 171.9L483.4 182.1L483.7 192.5L483.9 202.5L484.2 211.7L484.4 219.8L484.7 226.1L484.9 229.6L485.2 230L485.4 226.6L485.7 220.7L485.9 213.3L486.2 205.4L486.4 196.6L486.7 187.3L486.9 177.7L487.2 168.7L487.4 161.2L487.7 157.4L487.9 157.2L488.2 162.7L488.4 171.1L488.7 180L488.9 189.1L489.2 198.2L489.4 208.2L489.7 220L489.9 230.4L490.2 239.2L490.4 246.6L490.7 251.5L490.9 253.6L491.2 252.7L491.4 249.3L491.7 242.4L491.9 234.4L492.2 225.3L492.4 216L492.7 206.6L492.9 197.9L493.2 190.1L493.4 184.3L493.7 181.2L493.9 181.3L494.2 184.4L494.4 189.5L494.7 196.9L494.9 205.5L495.2 215.6L495.4 226.2L495.7 236.7L495.9 245.2L496.2 252.9L496.4 258.8L496.7 262.1L496.9 263.1L497.2 260.6L497.4 255.3L497.7 248L497.9 239.1L498.2 229.7L498.4 220.6L498.7 211.8L498.9 204.3L499.2 197.3L499.4 191.3L499.7 187.4L499.9 187.2L500.2 190.4L500.4 196.4L500.7 203.6L500.9 211.9L501.2 220.1L501.4 228.5L501.7 235.6L501.9 242.7L502.2 248.5L502.4 251.9L502.7 251.8L502.9 248.5L503.2 243.4L503.4 236.1L503.7 227.9L503.9 219L504.2 208.6L504.4 199.2L504.7 190.7L504.9 184.1L505.2 178.8L505.4 175.6L505.7 174.8L505.9 177L506.2 181.8L506.4 187.7L506.7 195.5L506.9 203.7L507.2 212.2L507.4 219.9L507.7 227.5L507.9 233.3L508.2 237.4L508.4 238.8L508.7 237.3L508.9 233.8L509.2 228L509.4 221L509.7 212.5L509.9 203.1L510.2 193.8L510.4 185.1L510.7 178.1L510.9 172.4L511.2 169.3L511.4 169.3L511.7 171.7L511.9 176.3L512.2 182.4L512.5 189.9L512.7 199.2L513 208.7L513.2 217.4L513.5 225.4L513.7 232.6L514 239.1L514.2 243.5L514.5 245.1L514.7 242.5L515 238.3L515.2 232.5L515.5 226.5L515.7 220.1L516 213.2L516.2 206.9L516.5 200.4L516.7 194.3L517 190.4L517.2 189.9L517.5 192.8L517.7 198.6L518 205.6L518.2 214L518.5 222L518.7 231.6L519 241.7L519.2 251.3L519.5 259.1L519.7 265.9L520 270.7L520.2 273.2L520.5 272.7L520.7 268.8L521 263.5L521.2 256.8L521.5 249.4L521.7 241.8L522 234L522.2 226.9L522.5 220.1L522.7 214.9L523 212.1L523.2 212.1L523.5 215.2L523.7 220.5L524 227.2L524.2 235.1L524.5 244L524.7 253.7L525 263.6L525.2 272.5L525.5 279.7L525.7 285.1L526 288.2L526.2 288.3L526.5 286.2L526.7 280.6L527 273.2L527.2 263.3L527.5 252.3L527.7 240.9L528 230.4L528.2 221.2L528.5 212.5L528.7 205.4L529 201.1L529.2 201L529.5 204.8L529.7 211.4L530 219.3L530.2 228L530.5 236.6L530.7 245.2L531 252.6L531.2 259.9L531.5 266.5L531.7 270.1L532 270.2L532.2 266.4L532.5 259.7L532.7 252.4L533 244L533.2 235L533.5 225.6L533.7 217.3L534 209.8L534.2 203.2L534.5 198.4L534.7 196.1" stroke="#1488CC"/>
<path d="M59.2 217.1L59.5 219.2L59.7 222.7L60 227.8L60.2 233.3L60.5 240.5L60.7 247.3L61 254L61.2 260.1L61.5 265.8L61.7 270.6L62 272.8L62.2 272.1L62.5 268.3L62.7 263.9L63 258.9L63.2 254.1L63.5 248.6L63.7 242.9L64 237.3L64.2 232.2L64.5 228L64.7 225.8L65 226.4L65.2 230L65.5 235.1L65.7 241.6L66 248.8L66.2 256.4L66.5 265L66.7 273.3L67 280.7L67.2 286.5L67.5 290.9L67.7 292.7L68 292.7L68.2 290.3L68.5 286.2L68.7 280.4L69 272.5L69.2 263.7L69.5 255.3L69.7 248.3L70 241.3L70.2 234.7L70.5 228.5L70.7 224.1L71 223.1L71.2 225.6L71.5 229.9L71.7 236.4L72 242.9L72.2 249.8L72.5 256.8L72.7 263.2L73 269.1L73.2 274.5L73.5 277.2L73.7 278.2L74 276.3L74.2 271.9L74.5 266.2L74.7 259.7L75 252.4L75.2 244.7L75.5 236.6L75.7 228.5L76 222.8L76.2 218.9L76.5 217.8L76.7 220L77 224.2L77.2 230.1L77.5 235.9L77.7 242L78 248.8L78.2 256.2L78.5 263.9L78.7 270.5L79 276.1L79.2 278.9L79.5 278.1L79.7 274.3L80 268.8L80.2 261.6L80.5 254.4L80.7 246.4L81 237.3L81.2 226.6L81.5 217.1L81.7 209.7L82 204.6L82.2 202L82.5 201.2L82.7 203.6L83 207.7L83.2 213.6L83.5 221.6L83.7 231.3L84 242.1L84.2 251.4L84.5 260L84.7 266.2L85 270.9L85.2 273.8L85.5 274.4L85.7 272.7L86 268.9L86.2 263.5L86.5 257L86.7 249.5L87 241.4L87.2 234.3L87.5 227.8L87.7 222.6L88 218.8L88.2 216.7L88.5 217.1L88.7 219.7L89 224L89.2 229.8L89.5 237.2L89.7 245L90 252.8L90.2 259.6L90.5 265.9L90.7 271.6L91 276L91.2 278.6L91.5 278.8L91.7 276.5L92 271.6L92.2 265.1L92.5 257.1L92.7 249.4L93 242.2L93.2 235.6L93.5 229.6L93.7 224.8L94 222L94.2 221.1L94.5 222.5L94.7 226.7L95 232.1L95.2 238.4L95.5 245.9L95.7 253.4L96 261.4L96.2 268.4L96.5 274.4L96.7 278.5L97 279.8L97.2 278.6L97.5 274.9L97.7 269.4L98 262.5L98.2 253.9L98.5 245.1L98.7 236.1L99 228.8L99.2 222.1L99.5 215.7L99.7 210.5L100 207.9L100.2 208.6L100.5 212.1L100.7 217.2L101 222.3L101.2 227.5L101.5 232.8L101.7 239.1L102 244.7L102.2 250.4L102.5 255.2L102.7 257.8L103 257.1L103.2 253L103.5 246.8L103.7 239.7L104 232.4L104.2 224L104.5 215.3L104.7 207.2L105 199.7L105.2 193.6L105.5 188.8L105.7 186.5L106 185.7L106.2 187.8L106.5 192L106.7 197.7L107 204.3L107.2 211.8L107.5 219.4L107.7 226.5L108 232.9L108.2 238.7L108.5 243.8L108.7 246.7L109 247.2L109.2 244.5L109.5 239.4L109.7 232L110 223.8L110.2 215.1L110.5 205.9L110.7 197.8L111 190.4L111.2 185.2L111.5 182.8L111.7 183.7L112 187.3L112.2 192.8L112.5 199.4L112.7 206.2L113 214.5L113.2 223.7L113.5 233.8L113.7 242.4L114 249.7L114.2 255.3L114.5 259.5L114.7 260.7L115 259.1L115.2 254.5L115.5 248L115.7 240.2L116 231.9L116.2 223.3L116.5 215L116.7 207.5L117 200.9L117.2 196.6L117.5 194.7L117.7 196.1L118 199.8L118.2 205.5L118.5 213.2L118.7 221.6L119 231.6L119.2 241.3L119.5 250L119.7 257.7L120 263.9L120.2 268.1L120.5 270L120.7 269.3L121 265.4L121.2 259.7L121.5 252.3L121.7 244.4L122 235.6L122.2 227.2L122.5 219.3L122.7 212.2L123 206.9L123.2 204.3L123.5 205.1L123.7 208.5L124 213.9L124.2 220.5L124.5 228.5L124.7 237.3L125 246.1L125.2 255.4L125.5 263.7L125.7 270.1L126 275.5L126.2 278.2L126.5 278.7L126.7 275.8L127 270.4L127.2 263.1L127.5 254.4L127.7 244.6L128 234.6L128.2 224.7L128.4 216.4L128.7 209.7L128.9 204.9L129.2 202.2L129.4 202.7L129.7 206.6L129.9 213L130.2 221.2L130.4 230.3L130.7 239.7L130.9 249.7L131.2 259L131.4 266.9L131.7 272.6L131.9 274.8L132.2 273.2L132.4 268.7L132.7 262L132.9 255L133.2 246.9L133.4 237.4L133.7 227.6L133.9 217.9L134.2 209.4L134.4 202.5L134.7 197.2L134.9 193.4L135.2 193.2L135.4 195.3L135.7 200.1L135.9 206.6L136.2 213.6L136.4 221.3L136.7 229L136.9 236.2L137.2 243.1L137.4 249.2L137.7 254.5L137.9 258L138.2 258L138.4 254.8L138.7 248.5L138.9 241.4L139.2 233.7L139.4 225.8L139.7 217.2L139.9 209L140.2 201.2L140.4 195.1L140.7 191.6L140.9 191.2L141.2 193.6L141.4 198.9L141.7 205.8L141.9 214.2L142.2 223.6L142.4 233.3L142.7 242.6L142.9 251.1L143.2 258.3L143.4 263.8L143.7 266.4L143.9 266.4L144.2 263.4L144.4 257.9L144.7 251.6L144.9 243.6L145.2 235L145.4 226.3L145.7 217.6L145.9 210.2L146.2 203.5L146.4 198.4L146.7 196.3L146.9 196.4L147.2 199.7L147.4 204.6L147.7 211.7L147.9 220.4L148.2 229L148.4 238.1L148.7 246.8L148.9 255L149.2 260.9L149.4 262.8L149.7 261.9L149.9 257.1L150.2 251.4L150.4 244.4L150.7 237.4L150.9 229.9L151.2 221L151.4 212L151.7 204.5L151.9 197.7L152.2 191.8L152.4 188.1L152.7 185.9L152.9 186.9L153.2 190.7L153.4 195.8L153.7 201.9L153.9 208.5L154.2 215.2L154.4 221.7L154.7 227.9L154.9 233L155.2 237.1L155.4 238.8L155.7 237.4L155.9 234L156.2 228.5L156.4 222.2L156.7 214.5L156.9 205.9L157.2 196.9L157.4 189.2L157.7 182.4L157.9 177.2L158.2 173.2L158.4 171.1L158.7 171.6L158.9 174.2L159.2 178.5L159.4 184.4L159.7 190.5L159.9 197.1L160.2 204.1L160.4 210L160.7 215.3L160.9 219.4L161.2 222L161.4 222.3L161.7 220.3L161.9 216.9L162.2 211.9L162.4 206.6L162.7 200.9L162.9 194.3L163.2 187.6L163.4 181L163.7 175.9L163.9 173.2L164.2 172.3L164.4 174.1L164.7 177.3L164.9 182.8L165.2 188.3L165.4 195L165.7 203.1L165.9 211.6L166.2 218.4L166.4 224.8L166.7 230.5L166.9 236.1L167.2 240.1L167.4 240.8L167.7 238.2L167.9 234.3L168.2 229.6L168.4 225L168.7 220.2L168.9 214L169.2 208.3L169.4 203.4L169.7 199.9L169.9 197.2L170.2 197.7L170.4 200.5L170.7 205.1L170.9 210.4L171.2 217.1L171.4 224.8L171.7 233.7L171.9 242.5L172.2 250L172.4 256.2L172.7 260.2L172.9 262L173.2 261.8L173.4 260.1L173.7 256.4L173.9 251.3L174.2 244.5L174.4 237.5L174.7 230.2L174.9 223.6L175.2 217.8L175.4 212.4L175.7 207.7L175.9 204.8L176.2 204.1L176.4 206.5L176.7 211L176.9 216.3L177.2 222.2L177.4 228.1L177.7 234.8L177.9 241.7L178.2 247.8L178.4 253L178.7 255.8L178.9 256.1L179.2 254.5L179.4 250.2L179.7 244.5L179.9 238.4L180.2 230.2L180.4 221.8L180.7 213.8L180.9 206.9L181.2 200.7L181.4 195.9L181.7 192.2L181.9 190.8L182.2 192.4L182.4 195.9L182.7 200.9L182.9 207.1L183.2 213.8L183.4 220.7L183.7 227.9L183.9 233.9L184.2 239.1L184.4 242.6L184.7 243.8L184.9 242.3L185.2 239L185.4 234.2L185.7 229.1L185.9 223.2L186.2 215.9L186.4 208.5L186.7 201.4L186.9 195L187.2 190.1L187.4 187L187.7 186.8L187.9 188.3L188.2 191.9L188.4 197L188.7 202.9L188.9 210.2L189.2 218.4L189.4 224.7L189.7 230.8L189.9 236.4L190.2 241.9L190.4 246.2L190.7 248.1L190.9 246.9L191.2 243.2L191.4 238.3L191.7 233.1L191.9 227.7L192.2 221.6L192.4 215.3L192.7 209L192.9 203.5L193.2 199.4L193.4 197.6L193.7 199.1L193.9 202.6L194.2 208.7L194.4 215L194.7 222.2L194.9 230.2L195.2 238.8L195.4 246.3L195.7 253.2L195.9 258.6L196.2 261.8L196.4 262.8L196.7 261.9L196.9 258.4L197.2 253.6L197.4 246.9L197.7 238.8L197.9 230.2L198.2 221.4L198.4 214.3L198.7 207.3L198.9 201.9L199.2 196.6L199.4 194L199.7 193.6L199.9 196.6L200.2 202.3L200.4 209.4L200.7 216.9L200.9 225.2L201.2 232.7L201.4 240.1L201.7 246.4L201.9 251.1L202.2 253.3L202.4 253.9L202.7 251.4L202.9 246.9L203.2 241.4L203.4 235.4L203.7 229.1L203.9 222.5L204.2 215.9L204.4 209.9L204.7 204.9L204.9 201.6L205.2 200.6L205.4 203L205.7 208.2L205.9 214.1L206.2 220.7L206.4 228.1L206.7 236.7L206.9 246.4L207.2 254.8L207.4 262.3L207.7 269.3L207.9 275.1L208.2 278.5L208.4 278.6L208.7 275.5L208.9 270.8L209.2 266.3L209.4 261.5L209.7 256.5L209.9 252L210.2 248.3L210.4 244.6L210.7 241.3L210.9 239.5L211.2 240.6L211.4 245L211.7 250.6L211.9 256.2L212.2 261.7L212.4 267.3L212.7 273.7L212.9 281.1L213.2 287.3L213.4 292.5L213.7 296.3L213.9 299.3L214.2 299.7L214.4 297.9L214.7 294.1L214.9 288.9L215.2 282.6L215.4 275.9L215.7 269.4L215.9 262.8L216.2 257.1L216.4 252.6L216.7 249.1L216.9 247.5L217.2 247.6L217.4 250.7L217.7 255L217.9 260.6L218.2 266L218.4 272.4L218.7 278.6L218.9 284.3L219.2 289.8L219.4 294.3L219.7 296.3L219.9 296L220.2 293.7L220.4 289.4L220.7 284L220.9 277.6L221.2 270.9L221.4 263.8L221.7 256.6L221.9 250.4L222.2 244.8L222.4 239.7L222.7 235.2L222.9 233.1L223.2 234.4L223.4 238.2L223.7 243.6L223.9 249.7L224.2 255.9L224.4 262.3L224.7 268.9L224.9 274.8L225.2 279.9L225.4 283L225.7 284.1L225.9 281.8L226.2 277.6L226.4 272.4L226.7 266.6L226.9 259.6L227.2 252.2L227.4 244.7L227.7 238.3L227.9 232.5L228.2 228L228.4 224.8L228.7 223.5L228.9 224.5L229.2 227.3L229.4 231.9L229.7 236.8L229.9 242.7L230.2 248.7L230.4 254.9L230.7 260.2L230.9 265.1L231.2 268.8L231.4 270.4L231.7 269.7L231.9 267.3L232.2 263.3L232.4 258.3L232.7 252.6L232.9 246.4L233.2 239.3L233.4 232.4L233.7 226.4L233.9 222L234.2 219L234.4 217.9L234.7 219.1L234.9 221.5L235.2 225.6L235.4 231.2L235.7 237.7L235.9 245L236.2 252.7L236.4 259.5L236.7 266.1L236.9 271.7L237.2 277L237.4 278.9L237.7 278.6L237.9 275L238.2 270.1L238.4 265L238.7 260.1L238.9 254.6L239.2 248.8L239.4 242.9L239.7 237.7L239.9 233.2L240.2 231L240.4 231.1L240.7 233.7L240.9 238.4L241.2 244.4L241.4 251.5L241.7 259.5L241.9 268.2L242.2 276.6L242.4 284.2L242.7 290L242.9 295.1L243.2 298.7L243.4 299.1L243.7 298L243.9 294.2L244.2 287.7L244.4 280.3L244.7 270.3L244.9 262.3L245.2 254.7L245.4 247.7L245.7 241.4L245.9 236.5L246.2 233.6L246.4 234.4L246.7 237.4L246.9 242.2L247.2 247.1L247.4 251.3L247.7 256.6L247.9 261.8L248.2 266.5L248.4 271.9L248.7 276.1L248.9 277.6L249.2 275.3L249.4 268.7L249.7 260.1L249.9 251.8L250.2 244.3L250.4 237.8L250.7 229.8L250.9 222.1L251.2 215.2L251.4 210.3L251.7 206.6L251.9 204.9L252.2 204.8L252.4 206.8L252.7 210.2L252.9 215L253.2 220.4L253.4 226.3L253.7 232.5L253.9 238.5L254.2 243.8L254.4 248.4L254.7 251L254.9 251.2L255.2 249.6L255.4 246.6L255.7 242.1L255.9 237L256.2 231.4L256.4 224.6L256.7 218.2L256.9 212.5L257.2 207.4L257.4 203.8L257.7 200.4L257.9 198.8L258.2 199L258.4 201.3L258.7 204.8L258.9 209.6L259.2 214.6L259.4 220.4L259.7 225.6L259.9 230.8L260.2 235.2L260.4 239L260.7 242L260.9 242.9L261.2 242L261.4 239L261.7 234.5L261.9 229.3L262.2 223.4L262.4 217L262.7 211.3L262.9 205.9L263.2 201.7L263.4 198.8L263.7 197.6L263.9 198.4L264.2 201.2L264.4 204.7L264.7 209L264.9 214.5L265.2 220L265.4 225.5L265.7 230.8L265.9 235.6L266.2 239.5L266.4 241.5L266.7 241.6L266.9 239.7L267.2 236.3L267.4 231.1L267.7 225.6L267.9 218.5L268.2 210.5L268.4 202.9L268.7 196L268.9 189.3L269.2 182.9L269.4 178.1L269.7 176.2L269.9 176.7L270.2 180.2L270.4 185.2L270.7 190.1L270.9 194.6L271.2 199.3L271.4 204.2L271.7 208.5L271.9 212.9L272.2 216.4L272.4 217.6L272.7 215.7L272.9 211.2L273.2 205.3L273.4 199.6L273.7 194.1L273.9 189L274.2 183L274.4 177.4L274.7 172.7L274.9 168.4L275.2 166.3L275.4 166L275.7 167.5L275.9 170.7L276.2 175.1L276.4 179.5L276.7 185.8L276.9 192.4L277.2 198.5L277.4 204.2L277.7 209L277.9 212.8L278.2 214.7L278.4 215.7L278.7 214.8L278.9 212.4L279.2 208.3L279.4 203.4L279.7 197.5L279.9 191.7L280.2 185.9L280.4 180.6L280.7 176.3L280.9 173.2L281.2 171.6L281.4 172.5L281.7 174.3L281.9 177.6L282.2 182.6L282.4 187.9L282.7 194.6L282.9 201L283.2 207.1L283.4 212.5L283.7 217.1L283.9 221L284.2 223.6L284.4 223.4L284.7 222.1L284.9 218.5L285.2 213.3L285.4 207.5L285.7 202L285.9 195.9L286.2 191L286.4 186L286.7 181.9L286.9 179.3L287.2 178.3L287.4 179.2L287.7 181.8L287.9 186.1L288.2 191.5L288.4 197.9L288.7 204.4L288.9 210.6L289.2 216.7L289.4 222.1L289.7 226.2L289.9 228.9L290.2 229.5L290.4 228.1L290.7 224.7L290.9 219.8L291.2 213.8L291.4 207.8L291.7 200.9L291.9 194.9L292.2 188.8L292.4 183.9L292.7 180.6L292.9 179L293.2 180.2L293.4 182.9L293.7 187.4L293.9 192.5L294.2 199.9L294.4 207.4L294.7 215.2L294.9 221.4L295.2 227.7L295.4 232.8L295.7 237.2L295.9 239.7L296.2 239.8L296.4 237.9L296.7 233.4L296.9 227.4L297.2 220.7L297.4 213.9L297.7 207.2L297.9 201L298.2 195.6L298.4 191.9L298.7 189.8L298.9 190.2L299.2 192.9L299.4 197.4L299.7 202.5L299.9 207.8L300.2 213.3L300.4 219.6L300.7 225.2L300.9 230.5L301.2 235L301.4 238.4L301.7 239.9L301.9 239.3L302.2 236.6L302.4 232.5L302.7 227L302.9 220.5L303.2 213.8L303.4 205.9L303.7 198.8L303.9 192L304.2 187.4L304.4 184.4L304.7 183.1L304.9 183.6L305.2 186.3L305.4 190.7L305.7 196.5L305.9 203.3L306.2 210.8L306.4 217.8L306.7 224.1L306.9 229.8L307.2 234.5L307.4 238L307.7 239.4L307.9 238L308.2 234.6L308.4 229.6L308.7 223.8L308.9 217.6L309.2 211L309.4 204.2L309.7 198.1L309.9 192.4L310.2 188.5L310.4 186.6L310.7 186.8L310.9 189L311.2 193.4L311.4 199.5L311.7 207.2L311.9 216.7L312.2 226.2L312.4 234.6L312.7 242.7L312.9 249.5L313.2 255.4L313.4 259.1L313.7 259.7L313.9 257.4L314.2 253L314.4 248.1L314.7 242.5L314.9 236.6L315.2 231.1L315.4 226L315.7 221.1L315.9 216.2L316.2 213.6L316.4 213.9L316.7 218.2L316.9 224.4L317.2 231.4L317.4 238.1L317.7 245.3L317.9 253.8L318.2 262.6L318.4 269.9L318.7 275.9L318.9 280.5L319.2 282.4L319.4 282.8L319.7 281.1L319.9 277.6L320.2 273.2L320.4 266.9L320.7 259.9L320.9 253L321.2 246.7L321.4 240.3L321.7 235L321.9 229.9L322.2 226.4L322.4 225.6L322.7 227.5L322.9 231.8L323.2 236.6L323.4 241.8L323.7 247.6L323.9 252.6L324.2 257.1L324.4 261.9L324.7 266.7L324.9 269.3L325.2 268.7L325.4 264.7L325.7 258.5L325.9 251.4L326.2 244.7L326.4 237.8L326.7 229.6L326.9 222.6L327.2 216.4L327.4 210.4L327.7 204.2L327.9 199.3L328.2 196L328.4 196L328.7 198.8L328.9 203.4L329.2 208.4L329.4 213.4L329.7 218.7L329.9 223.6L330.2 228.5L330.4 233L330.7 236.5L330.9 237.7L331.2 237L331.4 233.8L331.7 229L331.9 223.6L332.2 217L332.4 209.8L332.7 202.1L332.9 195.2L333.2 189.2L333.4 184L333.7 180.5L333.9 178.2L334.2 178.7L334.4 180.9L334.7 185.1L334.9 190.8L335.2 196.8L335.4 203.4L335.7 210.2L335.9 216.7L336.2 222.1L336.4 226.1L336.7 228.2L336.9 228.5L337.2 226.2L337.4 222.5L337.7 217.7L337.9 211.4L338.2 203.9L338.4 195.6L338.7 188.3L338.9 181.8L339.2 175.7L339.4 170.8L339.7 166.6L339.9 165.4L340.2 166.3L340.4 170.4L340.7 176L340.9 183L341.2 189.9L341.4 196.5L341.7 202.8L341.9 208.9L342.2 214.1L342.4 218.4L342.7 220.2L342.9 219.6L343.2 216.7L343.4 212.4L343.7 206.5L343.9 200.2L344.2 193L344.4 186.4L344.7 180L344.9 174L345.2 169.3L345.4 165.9L345.7 164.6L345.9 165.3L346.2 168L346.4 172.7L346.7 179L346.9 185.6L347.2 192.8L347.4 199.4L347.7 205.3L347.9 210.8L348.2 215.5L348.4 219L348.7 219.6L348.9 218.4L349.2 214.6L349.4 209.3L349.7 203.2L349.9 196.4L350.2 189.1L350.4 181.4L350.7 174.8L350.9 169.4L351.2 165.9L351.4 164.5L351.7 165.8L351.9 168.8L352.2 173.8L352.4 179.9L352.7 187L352.9 195.2L353.2 203.9L353.4 212.3L353.7 219.1L353.9 224.1L354.2 227.2L354.4 227.7L354.7 225.4L354.9 222L355.2 216.1L355.4 208.9L355.7 200.3L355.9 190.2L356.2 180L356.4 171.5L356.7 163.8L356.9 158.5L357.2 155.3L357.4 154.1L357.7 156.1L357.9 160.6L358.2 167.4L358.4 174.8L358.7 183.9L358.9 193.5L359.2 202.7L359.4 210.8L359.7 217.8L359.9 222.5L360.2 224.9L360.4 224.7L360.7 221.7L360.9 216.2L361.2 208.4L361.4 198.4L361.7 187.3L361.9 176.3L362.2 166.7L362.4 158.1L362.7 149.7L362.9 142.2L363.2 136.4L363.4 133.9L363.7 136.4L363.9 142.8L364.2 152.1L364.4 162.3L364.7 172.9L364.9 182.5L365.2 191.6L365.4 199.8L365.7 207.1L365.9 211.7L366.2 213.8L366.4 212.3L366.7 207.8L366.9 200.3L367.2 191.4L367.4 180.9L367.7 170.7L367.9 160.9L368.2 152L368.4 144.2L368.7 139L368.9 136.8L369.2 139.2L369.4 143.9L369.7 151L369.9 158.1L370.2 166.7L370.4 176.2L370.7 187.1L370.9 196.5L371.2 205.1L371.4 211.9L371.7 216.8L371.9 220L372.2 220.3L372.4 217.6L372.7 212.5L372.9 205L373.2 196.5L373.4 187.6L373.7 180.1L373.9 173.5L374.2 166.7L374.4 160.7L374.7 156.2L374.9 154.6L375.2 156.4L375.4 160.1L375.7 165.6L375.9 171.7L376.2 177.8L376.4 184.8L376.7 190.3L376.9 196.5L377.2 202.3L377.4 206.9L377.7 209.9L377.9 210.3L378.2 207.8L378.4 202.5L378.7 195.9L378.9 189L379.2 181.2L379.4 172.7L379.7 164.2L379.9 157.1L380.2 150.7L380.4 147.1L380.7 146.5L380.9 149.2L381.2 154.3L381.4 161L381.7 168.3L381.9 176.3L382.2 186.6L382.4 197.2L382.7 205.6L382.9 213.2L383.2 220.8L383.4 227.2L383.7 231.2L383.9 231.4L384.2 228.2L384.4 222.9L384.7 217L384.9 210.7L385.2 204.2L385.4 197.7L385.7 192.1L385.9 186.4L386.2 181.9L386.4 180.2L386.7 182.2L386.9 187.7L387.2 194.7L387.4 202.1L387.7 208.8L387.9 215.3L388.2 222.3L388.4 229.4L388.7 235.6L388.9 240.7L389.2 244L389.4 245.2L389.7 244.6L389.9 241.7L390.2 237.3L390.4 231.7L390.7 226L390.9 219.2L391.2 212.7L391.4 206.5L391.7 200.9L391.9 196.6L392.2 193.6L392.4 192.8L392.7 193.7L392.9 196.8L393.2 201.2L393.4 207L393.7 213.7L393.9 221L394.2 229.1L394.4 236.2L394.7 242.4L394.9 247L395.2 249.8L395.4 251.1L395.7 250L395.9 246.8L396.2 241.6L396.4 234.4L396.7 225.3L396.9 215.9L397.2 206.9L397.4 199.6L397.7 192.9L397.9 187.1L398.2 183.6L398.4 182.2L398.7 183.2L398.9 187.2L399.2 193.2L399.4 201.1L399.7 209.3L399.9 218.1L400.2 226.5L400.4 233.5L400.7 239.9L400.9 244.8L401.2 247.6L401.4 248.2L401.7 245.8L401.9 240.6L402.2 234.1L402.4 226.6L402.7 218.4L402.9 210.3L403.2 203.2L403.4 196.7L403.7 191.7L403.9 187.9L404.2 186.4L404.4 187.1L404.7 190.5L404.9 196.3L405.2 203.6L405.4 211.8L405.7 220.8L405.9 229.5L406.2 237.3L406.4 244L406.7 249.4L406.9 253.5L407.2 255L407.4 253.4L407.7 249.1L407.9 242.5L408.2 234.7L408.4 225.8L408.7 217L408.9 208.4L409.2 200.7L409.4 194.5L409.7 190L409.9 188.3L410.2 189.6L410.4 193.4L410.7 198.6L410.9 205.6L411.2 213.3L411.4 222L411.7 231.1L411.9 240.1L412.2 248L412.4 253.7L412.7 257.2L412.9 258L413.2 256.3L413.4 252.2L413.7 246L413.9 237.9L414.2 228.1L414.4 217.4L414.7 206.4L414.9 196.6L415.2 189L415.4 183.3L415.7 180.4L415.9 179.3L416.2 181.8L416.4 187L416.7 193.9L416.9 203.6L417.2 215.5L417.4 228L417.7 238.6L417.9 248.2L418.2 256.4L418.4 263.3L418.7 268.7L418.9 269.6L419.2 266.8L419.4 260.8L419.7 253L419.9 244.1L420.2 234.6L420.4 224.1L420.7 213.9L420.9 205.4L421.2 198.3L421.4 194.1L421.7 193L421.9 195.6L422.2 200.7L422.4 208L422.7 216.7L422.9 227.2L423.2 238.3L423.4 250.1L423.7 261.3L423.9 270.6L424.2 277.5L424.4 280.1L424.7 280L424.9 276.3L425.2 270.4L425.4 262.5L425.7 252.5L425.9 241.4L426.2 229.2L426.4 218.3L426.7 208.1L426.9 199.7L427.2 192.8L427.4 189.1L427.7 189.1L427.9 192.2L428.2 198.4L428.4 206.2L428.7 214.3L428.9 223.8L429.2 234L429.4 244.1L429.7 253.1L429.9 260.8L430.2 265.1L430.4 265.8L430.7 262.3L430.9 255.8L431.2 247.3L431.4 237.2L431.7 224.6L431.9 210.9L432.2 195.6L432.4 182.4L432.7 171.3L432.9 162.1L433.2 155.4L433.4 152.1L433.7 152.6L433.9 157L434.2 165.3L434.4 176.8L434.7 189.1L434.9 202.8L435.2 214.8L435.4 225.8L435.7 235.7L435.9 243.5L436.2 248.2L436.4 250.3L436.7 247.6L436.9 241.9L437.2 233.2L437.4 223.3L437.7 213.3L437.9 202.9L438.2 193.6L438.4 184.5L438.7 176.1L438.9 169.7L439.2 166.9L439.4 168.5L439.7 173.7L439.9 181.6L440.2 190.8L440.4 201.9L440.7 213.3L440.9 224.6L441.2 234.5L441.4 243.4L441.7 251.1L441.9 255.9L442.2 258.1L442.4 256.4L442.7 252.1L442.9 244.8L443.2 236.1L443.4 227.4L443.7 218.3L443.9 208.6L444.2 199.5L444.4 191L444.7 184.7L444.9 181.7L445.2 182.8L445.4 187L445.7 194.1L445.9 203L446.2 212.5L446.4 223.7L446.7 235.3L446.9 246.6L447.2 256.5L447.4 264.9L447.7 272L447.9 276.7L448.2 278.6L448.4 276.8L448.7 271.4L448.9 263.2L449.2 253.6L449.4 242.8L449.7 232.8L449.9 223.5L450.2 214.8L450.4 207.5L450.7 202.9L450.9 202.4L451.2 204.9L451.4 210.7L451.7 217.6L451.9 226.2L452.2 235L452.4 245.2L452.7 254.5L452.9 263.4L453.2 271.1L453.4 276.9L453.7 281.2L453.9 282.6L454.2 280.9L454.4 276.9L454.7 270.5L454.9 262.5L455.2 254.4L455.4 245.4L455.7 236.6L455.9 228.7L456.2 221.8L456.4 217.5L456.7 214.9L456.9 216L457.2 219.5L457.4 224.5L457.7 231.6L457.9 240.5L458.2 249.8L458.4 260.1L458.7 269.8L458.9 277.7L459.2 284.1L459.4 288.3L459.7 291L459.9 290.5L460.2 287.6L460.4 282L460.7 274.3L460.9 266L461.2 256.5L461.4 247.5L461.7 238.8L461.9 231.2L462.2 224.5L462.4 219.5L462.7 216.8L462.9 217.8L463.2 221.7L463.4 228.1L463.7 235.7L463.9 244.3L464.2 252.8L464.4 260.6L464.7 268.7L464.9 275.8L465.2 281.5L465.4 283.9L465.7 283L465.9 279L466.2 273.1L466.4 265.5L466.7 256.9L466.9 247.3L467.2 237.4L467.4 227.8L467.7 219.5L467.9 213L468.2 207.5L468.4 204.5L468.7 204.3L468.9 207.1L469.2 212.2L469.4 218.4L469.7 225.6L469.9 233.1L470.2 241.6L470.4 248.9L470.7 255.7L470.9 260.8L471.2 263.5L471.4 263.9L471.7 260.6L471.9 255.4L472.2 249.1L472.4 241.9L472.7 233.6L472.9 223.7L473.2 214.4L473.4 205.7L473.7 199L473.9 194.4L474.2 191.2L474.4 190.2L474.7 191.5L474.9 195.6L475.2 201.2L475.4 207.7L475.7 214.8L475.9 222.4L476.2 229.3L476.4 236L476.7 241.7L476.9 245.8L477.2 247.1L477.4 246L477.7 242.3L477.9 236.7L478.2 229.9L478.4 222.4L478.7 213L478.9 203.6L479.2 194.5L479.4 185.7L479.7 176.3L479.9 168.1L480.2 162.4L480.4 161.1L480.7 164.2L480.9 170.7L481.2 178.7L481.4 187.1L481.7 196.1L481.9 205.2L482.2 213.5L482.4 221.6L482.7 227.7L482.9 231.4L483.2 231.9L483.4 228.7L483.7 222.9L483.9 215.2L484.2 205.5L484.4 195.1L484.7 184.1L484.9 173.3L485.2 163.3L485.4 155.6L485.7 150L485.9 147.8L486.2 149.1L486.4 153.3L486.7 160.5L486.9 169.8L487.2 181.1L487.4 194.3L487.7 207.4L487.9 218.6L488.2 227.8L488.4 235.7L488.7 242.6L488.9 247.2L489.2 248.7L489.4 246.4L489.7 240.7L489.9 232.8L490.2 224.1L490.4 214.3L490.7 205.3L490.9 197.4L491.2 190.2L491.4 183.8L491.7 180L491.9 179L492.2 181.3L492.4 186.2L492.7 193L492.9 201.6L493.2 210.6L493.4 221.2L493.7 230.6L493.9 239.7L494.2 247.7L494.4 254L494.7 258.1L494.9 259.1L495.2 257.4L495.4 252.1L495.7 245.4L495.9 236.5L496.2 227.5L496.4 218.1L496.7 209.3L496.9 200.8L497.2 194L497.4 189.1L497.7 187.7L497.9 189.5L498.2 194.5L498.4 201.6L498.7 209.1L498.9 217.2L499.2 226.4L499.4 235.7L499.7 245L499.9 253.5L500.2 259.3L500.4 262.5L500.7 261.3L500.9 257.1L501.2 250.2L501.4 242.1L501.7 233.9L501.9 224.8L502.2 215L502.4 205.3L502.7 196.2L502.9 189.2L503.2 183L503.4 179.1L503.7 177.4L503.9 179.4L504.2 183.3L504.4 189.6L504.7 197.1L504.9 205.7L505.2 213.9L505.4 222.6L505.7 230.5L505.9 236.5L506.2 240.9L506.4 242.6L506.7 241L506.9 237.2L507.2 231.6L507.4 224.6L507.7 216.6L507.9 207.6L508.2 197.9L508.4 188.7L508.7 181.2L508.9 175.2L509.2 171L509.4 168.8L509.7 169.7L509.9 172.6L510.2 177.6L510.4 184.7L510.7 193.6L510.9 203.5L511.2 212.4L511.4 220.7L511.7 228L511.9 234L512.2 237.9L512.5 239.4L512.7 237.8L513 234L513.2 228.2L513.5 221.4L513.7 214L514 206.3L514.2 199.3L514.5 192.3L514.7 186.5L515 182L515.2 180.4L515.5 182.3L515.7 187.1L516 193.5L516.2 200.9L516.5 209.5L516.7 218.5L517 228.5L517.2 237.5L517.5 245.3L517.7 252.7L518 259.4L518.2 264.5L518.5 266.3L518.7 264.4L519 259.4L519.2 253.1L519.5 245.6L519.7 237.9L520 230.8L520.2 224.5L520.5 218.3L520.7 212.7L521 208.6L521.2 208L521.5 210L521.7 214.7L522 221.3L522.2 228.9L522.5 238.2L522.7 248.1L523 257.6L523.2 266L523.5 273L523.7 278.9L524 283.1L524.2 285.2L524.5 283.8L524.7 279.5L525 272.7L525.2 264.1L525.5 254.2L525.7 244.6L526 235.8L526.2 227.8L526.5 220.4L526.7 214.4L527 210.7L527.2 210.2L527.5 213.2L527.7 218.9L528 226.4L528.2 234.9L528.5 244.3L528.7 253.8L529 263L529.2 271.5L529.5 278.4L529.7 281.9L530 281.3L530.2 276.6L530.5 269.1L530.7 260.4L531 251.5L531.2 241.3L531.5 229.9L531.7 218.8L532 209.4L532.2 201.2L532.5 196.1L532.7 193.7L533 193.9L533.2 197L533.5 202L533.7 208L534 215L534.2 222.8L534.5 230L534.7 235.5" stroke="#D22A50"/>
<path d="M59.2 252.2L59.5 257.2L59.7 261.7L60 265L60.2 266.1L60.5 264.3L60.7 260.5L61 255.6L61.2 250L61.5 243.6L61.7 237L62 230.6L62.2 224.6L62.5 220.6L62.7 218.4L63 219.4L63.2 222.1L63.5 227L63.7 232.9L64 239.6L64.2 248L64.5 257L64.7 265.9L65 273.9L65.2 280.5L65.5 285.5L65.7 289.8L66 291.4L66.2 290.3L66.5 286.4L66.7 280.7L67 273.6L67.2 266.1L67.5 258.2L67.7 250.9L68 244.4L68.2 238.4L68.5 234L68.7 231.7L69 232.8L69.2 235.9L69.5 240.7L69.7 246.1L70 251.5L70.2 257.4L70.5 264L70.7 270.2L71 276L71.2 281.1L71.5 283.8L71.7 283.6L72 280.4L72.2 275.1L72.5 269L72.7 261.8L73 254L73.2 245.4L73.5 236.4L73.7 228.6L74 222.2L74.2 217.4L74.5 214.9L74.7 214.6L75 216.8L75.2 220.9L75.5 227.4L75.7 235.4L76 245.1L76.2 254.7L76.5 264L76.7 272.1L77 277.9L77.2 281.7L77.5 283.2L77.7 282.2L78 278.9L78.2 274.3L78.5 268L78.7 259.5L79 249.9L79.2 240.1L79.5 231.8L79.7 223.8L80 216.4L80.2 210L80.5 204.9L80.7 203.7L81 206L81.2 211.1L81.5 218.1L81.7 226L82 233.8L82.2 242.2L82.5 250.2L82.7 257.8L83 264.6L83.2 269.5L83.5 271.6L83.7 271L84 267.4L84.2 261.6L84.5 254.6L84.7 247.3L85 240L85.2 233.3L85.5 227.2L85.7 221.4L86 216.7L86.2 214.4L86.5 215.2L86.7 218.2L87 223.1L87.2 228.9L87.5 236L87.7 242.9L88 250.6L88.2 258.5L88.5 265.1L88.7 270.2L89 273.4L89.2 274.9L89.5 273.9L89.7 271.2L90 266.8L90.2 261L90.5 254.6L90.7 247.6L91 240.5L91.2 233.5L91.5 227.2L91.7 222.7L92 219.8L92.2 219.8L92.5 221.9L92.7 225.9L93 231.2L93.2 238L93.5 245.6L93.7 253.9L94 262.1L94.2 269.1L94.5 274.8L94.7 279.3L95 281.3L95.2 281.4L95.5 279.4L95.7 274.7L96 268.7L96.2 261.1L96.5 252L96.7 241.9L97 232.6L97.2 224.3L97.5 217.6L97.7 213.1L98 211.3L98.2 212L98.5 214.9L98.7 220.4L99 226.3L99.2 232.9L99.5 239.9L99.7 247.7L100 254.6L100.2 261.4L100.5 265.8L100.7 268.5L101 267.4L101.2 263.7L101.5 257.5L101.7 250.7L102 243.4L102.2 234.5L102.5 225L102.7 214.4L103 205.1L103.2 197.6L103.5 191.8L103.7 188.1L104 186.7L104.2 188.2L104.5 192.4L104.7 198.3L105 205.5L105.2 213.5L105.5 221.5L105.7 228.4L106 235.3L106.2 241.1L106.5 245.2L106.7 247.2L107 245.9L107.2 242.5L107.5 236.6L107.7 230.1L108 222.8L108.2 214.9L108.5 206.1L108.7 197.3L109 189.9L109.2 184.1L109.5 180.3L109.7 179.3L110 180.8L110.2 184.7L110.5 190.3L110.7 198.2L111 207.4L111.2 218.2L111.5 227.7L111.7 236.1L112 243.6L112.2 249.9L112.5 254.1L112.7 256.3L113 255.4L113.2 251.4L113.5 245.2L113.7 237.4L114 229L114.2 220.3L114.5 211.3L114.7 203.3L115 196.5L115.2 192.1L115.5 190.5L115.7 192.6L116 196.2L116.2 201.9L116.5 208.8L116.7 216.9L117 226.2L117.2 236.4L117.5 245.4L117.7 253.4L118 260.1L118.2 264.8L118.5 267.7L118.7 267.5L119 264.2L119.2 258.7L119.5 251.7L119.7 243.8L120 234.4L120.2 226.2L120.5 217.9L120.7 211L121 205.1L121.2 201.9L121.5 201.3L121.7 203.6L122 208.5L122.2 214.6L122.5 222.3L122.7 231.4L123 241.3L123.2 251.2L123.5 259.7L123.7 266.8L124 272.1L124.2 275.5L124.5 276.7L124.7 275L125 270.9L125.2 264.3L125.5 255.8L125.7 246.5L126 237.1L126.2 228L126.5 219.8L126.7 213L127 207.7L127.2 204.9L127.5 204.7L127.7 207.7L128 213.4L128.2 221.2L128.4 230.4L128.7 240.5L128.9 251L129.2 261.2L129.4 270L129.7 276.4L129.9 280.3L130.2 280.5L130.4 278L130.7 272.9L130.9 265.3L131.2 256.6L131.4 246.2L131.7 235L131.9 224.7L132.2 215.7L132.4 207.9L132.7 202L132.9 197.9L133.2 196.5L133.4 197.7L133.7 202.1L133.9 208.3L134.2 215.6L134.4 223.6L134.7 232L134.9 239.3L135.2 246.5L135.4 252.6L135.7 257.1L135.9 259L136.2 257.7L136.4 253.8L136.7 248.2L136.9 241.4L137.2 233.6L137.4 224.5L137.7 215.5L137.9 207L138.2 199.6L138.4 193.8L138.7 190L138.9 189.2L139.2 190.3L139.4 193.5L139.7 199.8L139.9 207.4L140.2 217.1L140.4 228.1L140.7 239.1L140.9 248.4L141.2 256.4L141.4 262.5L141.7 266.1L141.9 266.9L142.2 265.4L142.4 261.2L142.7 255.1L142.9 247.3L143.2 237.9L143.4 228.2L143.7 219.6L143.9 211.4L144.2 204.7L144.4 199.8L144.7 197.1L144.9 197.1L145.2 199.6L145.4 204.2L145.7 211L145.9 218.9L146.2 227.7L146.4 237.4L146.7 246.4L146.9 254.3L147.2 260.3L147.4 264.6L147.7 266.2L147.9 265.2L148.2 261.6L148.4 256.2L148.7 248.6L148.9 239.1L149.2 228.4L149.4 219.6L149.7 211.7L149.9 204.1L150.2 198.5L150.4 194.2L150.7 192.1L150.9 192.9L151.2 196.2L151.4 201.2L151.7 207.2L151.9 213.7L152.2 220.2L152.4 226.5L152.7 232.4L152.9 238L153.2 242.1L153.4 244.3L153.7 243.5L153.9 240.1L154.2 234.5L154.4 228.4L154.7 221.1L154.9 213.3L155.2 204.7L155.4 196.7L155.7 189.5L155.9 183L156.2 178.1L156.4 175.2L156.7 174.6L156.9 176.6L157.2 181.3L157.4 187L157.7 193.3L157.9 199.6L158.2 206L158.4 211.4L158.7 217.2L158.9 221.8L159.2 225.1L159.4 226L159.7 223.8L159.9 219.9L160.2 214.4L160.4 208.1L160.7 201.5L160.9 194.5L161.2 187.5L161.4 180.5L161.7 174.7L161.9 170.8L162.2 168.8L162.4 168.8L162.7 170.8L162.9 174.9L163.2 180.6L163.4 187.1L163.7 194.6L163.9 202.5L164.2 209.9L164.4 216.6L164.7 222.7L164.9 228.1L165.2 231.7L165.4 231.8L165.7 229.4L165.9 225.2L166.2 220.6L166.4 216.2L166.7 212.1L166.9 207.5L167.2 203.8L167.4 199.8L167.7 196L167.9 192.5L168.2 191.2L168.4 193.2L168.7 197.5L168.9 203.4L169.2 209.4L169.4 216.5L169.7 224.4L169.9 233.1L170.2 240.3L170.4 246.9L170.7 252.9L170.9 257.9L171.2 260.2L171.4 260L171.7 257.3L171.9 252L172.2 245.6L172.4 238.5L172.7 232.1L172.9 225.9L173.2 219.9L173.4 214.6L173.7 209.8L173.9 207.8L174.2 207.7L174.4 210.1L174.7 214.1L174.9 219L175.2 224.5L175.4 231.1L175.7 237.5L175.9 243.8L176.2 249.5L176.4 254.3L176.7 257.2L176.9 258.7L177.2 257.3L177.4 254.1L177.7 249.5L177.9 243.1L178.2 235.5L178.4 227.2L178.7 218.1L178.9 210.1L179.2 203.4L179.4 197.9L179.7 194.8L179.9 193.3L180.2 194.8L180.4 198.2L180.7 203.3L180.9 209.5L181.2 216.2L181.4 223.3L181.7 230.3L181.9 237.2L182.2 243.2L182.4 247.4L182.7 249.1L182.9 248.2L183.2 244.7L183.4 240.1L183.7 233.7L183.9 226.7L184.2 218.8L184.4 210.4L184.7 202.3L184.9 195.5L185.2 190.1L185.4 186.7L185.7 185.6L185.9 185.8L186.2 188.3L186.4 192.8L186.7 198.9L186.9 205.9L187.2 214.2L187.4 222.9L187.7 230.5L187.9 236.9L188.2 241.7L188.4 244L188.7 244.5L188.9 242.6L189.2 239.4L189.4 234.4L189.7 229.4L189.9 223.8L190.2 217.6L190.4 210.9L190.7 205L190.9 199.3L191.2 195.7L191.4 193.5L191.7 193.8L191.9 196.7L192.2 201.1L192.4 206.9L192.7 214.5L192.9 222.9L193.2 232.8L193.4 242.6L193.7 250.7L193.9 257.1L194.2 260.9L194.4 262.8L194.7 262.7L194.9 260.5L195.2 256.3L195.4 250.8L195.7 243.7L195.9 235.8L196.2 228.5L196.4 221.1L196.7 214.3L196.9 208L197.2 203L197.4 199.9L197.7 200.1L197.9 202.9L198.2 208L198.4 214L198.7 220.2L198.9 227.3L199.2 233.8L199.4 240.1L199.7 245.7L199.9 251.2L200.2 254.2L200.4 254.7L200.7 252.7L200.9 248.7L201.2 242.8L201.4 235.4L201.7 227.4L201.9 218.8L202.2 210.7L202.4 202.7L202.7 196.4L202.9 192.4L203.2 191.6L203.4 193.4L203.7 198.3L203.9 204.5L204.2 211.6L204.4 218.7L204.7 226.9L204.9 235.4L205.2 243.1L205.4 250.5L205.7 257.7L205.9 263.6L206.2 267.4L206.4 268.1L206.7 265.3L206.9 260.4L207.2 254.7L207.4 249.6L207.7 244.3L207.9 238.7L208.2 233.5L208.4 228.2L208.7 223.9L208.9 221.5L209.2 223L209.4 228.5L209.7 236.6L209.9 244.2L210.2 251.3L210.4 257.8L210.7 265.5L210.9 272.5L211.2 278.6L211.4 284.4L211.7 289.1L211.9 292.9L212.2 295L212.4 294.4L212.7 291.4L212.9 286.4L213.2 280.7L213.4 275L213.7 268.8L213.9 262.6L214.2 257.2L214.4 252.4L214.7 249.3L214.9 247.7L215.2 248.8L215.4 251.5L215.7 255.4L215.9 260.7L216.2 266.8L216.4 273.9L216.7 280.4L216.9 287.1L217.2 293L217.4 297.5L217.7 299.8L217.9 300L218.2 297.9L218.4 294.3L218.7 289.4L218.9 283.5L219.2 276.8L219.4 269.3L219.7 262L219.9 255.9L220.2 250.6L220.4 245.6L220.7 242.3L220.9 240.6L221.2 241.9L221.4 245.4L221.7 249.9L221.9 254.7L222.2 260.4L222.4 266.2L222.7 272L222.9 277.8L223.2 282.3L223.4 286.4L223.7 287.7L223.9 287L224.2 283.6L224.4 278.7L224.7 272.9L224.9 265.9L225.2 257.8L225.4 249.7L225.7 242.1L225.9 235.5L226.2 230.9L226.4 227.3L226.7 225.6L226.9 226.2L227.2 229L227.4 233.1L227.7 238.4L227.9 244.4L228.2 250.7L228.4 256.1L228.7 262L228.9 266.8L229.2 271.1L229.4 274L229.7 274L229.9 271.6L230.2 267.7L230.4 262.7L230.7 256.7L230.9 249.9L231.2 243L231.4 236L231.7 229.5L231.9 224.5L232.2 220.6L232.4 218.2L232.7 217.7L232.9 219.3L233.2 222.6L233.4 227.6L233.7 234L233.9 241.3L234.2 248.3L234.4 254.9L234.7 260.8L234.9 265.8L235.2 270.2L235.4 272.2L235.7 272.5L235.9 270L236.2 266.2L236.4 261.2L236.7 255.1L236.9 249.1L237.2 243.4L237.4 237.7L237.7 232.2L237.9 227.6L238.2 225.1L238.4 225.3L238.7 228.1L238.9 233.1L239.2 238.5L239.4 245.5L239.7 252.6L239.9 261.2L240.2 269.3L240.4 276.7L240.7 283.6L240.9 289L241.2 293L241.4 294.4L241.7 293.1L241.9 289.1L242.2 283.5L242.4 276.7L242.7 269.9L242.9 262.5L243.2 255.5L243.4 249.2L243.7 243.7L243.9 239.4L244.2 237.5L244.4 238.3L244.7 241.6L244.9 246.3L245.2 252.3L245.4 258.3L245.7 265.2L245.9 272.4L246.2 279.7L246.4 286.1L246.7 290.8L246.9 293.2L247.2 291.5L247.4 287.1L247.7 280.4L247.9 272.9L248.2 265.4L248.4 257L248.7 246.9L248.9 237.8L249.2 230.2L249.4 223.2L249.7 217.1L249.9 211.2L250.2 207.9L250.4 207.1L250.7 209.4L250.9 214L251.2 220L251.4 226.1L251.7 232.4L251.9 238.1L252.2 243L252.4 247.8L252.7 251.9L252.9 253.5L253.2 253.5L253.4 250.8L253.7 247L253.9 241.9L254.2 235.9L254.4 229.4L254.7 223.2L254.9 217.2L255.2 212.1L255.4 207.5L255.7 204.3L255.9 202.3L256.2 202.6L256.4 204.7L256.7 208.6L256.9 212.5L257.2 217.5L257.4 222.6L257.7 227.3L257.9 231.6L258.2 235.9L258.4 239.1L258.7 241.3L258.9 241.7L259.2 239.6L259.4 235.9L259.7 232L259.9 227.6L260.2 223L260.4 217.3L260.7 211.9L260.9 207L261.2 202.7L261.4 199.4L261.7 197.6L261.9 197.4L262.2 199.1L262.4 202L262.7 207L262.9 212.5L263.2 219.1L263.4 225.9L263.7 232L263.9 237.2L264.2 241.7L264.4 244.4L264.7 244.7L264.9 243.4L265.2 240.7L265.4 236.6L265.7 232.3L265.9 226.3L266.2 220.3L266.4 214.8L266.7 209.4L266.9 203.7L267.2 197.6L267.4 191.9L267.7 188.4L267.9 187.4L268.2 189.9L268.4 193.6L268.7 198L268.9 202.6L269.2 207.5L269.4 212L269.7 216.7L269.9 221.3L270.2 225L270.4 227.1L270.7 225.6L270.9 220.9L271.2 215.6L271.4 210.1L271.7 203.7L271.9 196.7L272.2 188.7L272.4 181.2L272.7 175L272.9 170.1L273.2 167L273.4 165.2L273.7 165.3L273.9 167L274.2 170.5L274.4 175.2L274.7 181.2L274.9 188L275.2 194.3L275.4 200.3L275.7 205.4L275.9 209.7L276.2 212.8L276.4 214.3L276.7 214.2L276.9 211.7L277.2 208.2L277.4 203L277.7 197.4L277.9 191.7L278.2 186.1L278.4 181.1L278.7 176.5L278.9 173.3L279.2 171.1L279.4 170.7L279.7 172.4L279.9 175.1L280.2 179.6L280.4 184.9L280.7 190.9L280.9 196.9L281.2 202.9L281.4 208.3L281.7 212.5L281.9 216.2L282.2 218.8L282.4 219.9L282.7 218.4L282.9 215.2L283.2 210.8L283.4 205.7L283.7 199.9L283.9 194L284.2 188.6L284.4 183.5L284.7 179.5L284.9 176.9L285.2 176.7L285.4 177.6L285.7 180.8L285.9 185L286.2 190.1L286.4 196L286.7 202.1L286.9 208.6L287.2 214.4L287.4 219.5L287.7 223.7L287.9 226.4L288.2 227.3L288.4 226.5L288.7 223.8L288.9 219.4L289.2 213.7L289.4 207.5L289.7 200.5L289.9 194.2L290.2 188.7L290.4 183.2L290.7 180.1L290.9 178.5L291.2 178.5L291.4 180.5L291.7 184.3L291.9 189.4L292.2 195.6L292.4 202.4L292.7 210L292.9 216.7L293.2 222.9L293.4 228.3L293.7 232.7L293.9 235.2L294.2 235.1L294.4 232.8L294.7 228.5L294.9 223.1L295.2 217.3L295.4 210.9L295.7 204.6L295.9 198.7L296.2 192.9L296.4 188.6L296.7 186L296.9 185.9L297.2 188L297.4 192.2L297.7 197.7L297.9 203.9L298.2 210.9L298.4 218.2L298.7 225.3L298.9 231.6L299.2 236.9L299.4 240.3L299.7 242L299.9 241.7L300.2 239.3L300.4 235.5L300.7 230.8L300.9 224.9L301.2 218.1L301.4 211.2L301.7 204.4L301.9 198.3L302.2 193.5L302.4 189.1L302.7 185.7L302.9 184.5L303.2 185.9L303.4 189.8L303.7 195.5L303.9 202.4L304.2 209.6L304.4 216.5L304.7 223.2L304.9 228.9L305.2 233.2L305.4 236.4L305.7 237.3L305.9 235.9L306.2 233L306.4 228.2L306.7 222.7L306.9 216.9L307.2 210.2L307.4 203.4L307.7 197.2L307.9 191.8L308.2 187.7L308.4 185.1L308.7 185.4L308.9 187.4L309.2 191L309.4 196.2L309.7 202.8L309.9 210.1L310.2 218.2L310.4 226.3L310.7 232.8L310.9 239.1L311.2 245.2L311.4 249.7L311.7 251.2L311.9 249.7L312.2 245.3L312.4 239.7L312.7 233.7L312.9 227L313.2 220.1L313.4 214.2L313.7 208.5L313.9 204L314.2 200.6L314.4 201.5L314.7 205.5L314.9 211.9L315.2 219.1L315.4 226.2L315.7 233.7L315.9 242.3L316.2 250.8L316.4 258.3L316.7 265L316.9 271.1L317.2 276.3L317.4 279.2L317.7 279.4L317.9 276.7L318.2 271.5L318.4 265.1L318.7 258.7L318.9 252.1L319.2 245.9L319.4 239.6L319.7 234.9L319.9 231.1L320.2 229.5L320.4 230L320.7 232.5L320.9 236.8L321.2 241.9L321.4 247.4L321.7 253.4L321.9 260.7L322.2 268.2L322.4 274.1L322.7 279.2L322.9 281.1L323.2 280.3L323.4 276.6L323.7 271L323.9 265L324.2 258.4L324.4 251.8L324.7 243.2L324.9 235.2L325.2 228.1L325.4 221.2L325.7 215.3L325.9 210.1L326.2 207.4L326.4 207.3L326.7 210.1L326.9 213.9L327.2 218.3L327.4 222.4L327.7 226.7L327.9 230.8L328.2 234.5L328.4 238.9L328.7 242.9L328.9 244.6L329.2 244L329.4 240.4L329.7 234.9L329.9 229.3L330.2 222.7L330.4 216L330.7 208.8L330.9 202.1L331.2 196L331.4 190.6L331.7 185.8L331.9 182.6L332.2 182L332.4 183.7L332.7 187.5L332.9 192.8L333.2 198.7L333.4 204.6L333.7 210.9L333.9 216.7L334.2 222.4L334.4 226.9L334.7 230.1L334.9 230.4L335.2 229.2L335.4 226.2L335.7 221.2L335.9 215.2L336.2 208.6L336.4 200.8L336.7 193.6L336.9 187.2L337.2 181.8L337.4 176.8L337.7 172.7L337.9 170.9L338.2 171.9L338.4 175.2L338.7 180L338.9 186.2L339.2 192.8L339.4 199.5L339.7 206.6L339.9 213.1L340.2 218.2L340.4 221.5L340.7 223L340.9 221.9L341.2 218.7L341.4 213.4L341.7 208.3L341.9 201.1L342.2 193.8L342.4 185.9L342.7 178.3L342.9 171.8L343.2 166.8L343.4 164.4L343.7 163.8L343.9 165.2L344.2 169.4L344.4 173.8L344.7 179.6L344.9 185.7L345.2 193.2L345.4 200.7L345.7 207.6L345.9 213.3L346.2 217.4L346.4 219.6L346.7 219.1L346.9 216.8L347.2 213L347.4 207.6L347.7 201.7L347.9 195L348.2 188.1L348.4 180.8L348.7 174.2L348.9 169.3L349.2 165.4L349.4 163.8L349.7 164.2L349.9 166.3L350.2 170.7L350.4 176.5L350.7 184.1L350.9 192.5L351.2 201.4L351.4 210.7L351.7 218.1L351.9 223.7L352.2 227.1L352.4 228.6L352.7 227.8L352.9 224.5L353.2 219.2L353.4 212.7L353.7 204.5L353.9 195.9L354.2 186.5L354.4 178.2L354.7 171L354.9 164.5L355.2 159.7L355.4 157L355.7 157.6L355.9 161L356.2 167.4L356.4 175L356.7 183.8L356.9 192.9L357.2 201.8L357.4 210.2L357.7 217.1L357.9 222.3L358.2 225.2L358.4 225.2L358.7 222.6L358.9 218.1L359.2 210.8L359.4 202.7L359.7 192.7L359.9 181.9L360.2 172.5L360.4 163.3L360.7 154.9L360.9 148.7L361.2 144.9L361.4 145L361.7 148.6L361.9 155.3L362.2 163.1L362.4 171.2L362.7 180L362.9 189.5L363.2 199.3L363.4 207.3L363.7 214.3L363.9 217.9L364.2 218L364.4 214.6L364.7 207.6L364.9 199.5L365.2 190.2L365.4 180.1L365.7 169.5L365.9 158.1L366.2 147.6L366.4 139L366.7 132.9L366.9 130L367.2 130.9L367.4 135.2L367.7 141.5L367.9 149.8L368.2 159.7L368.4 170.5L368.7 181.8L368.9 192.1L369.2 201L369.4 208.3L369.7 213.8L369.9 217.1L370.2 217.5L370.4 215L370.7 209.3L370.9 201.9L371.2 193.1L371.4 184.4L371.7 174.4L371.9 165.2L372.2 156.8L372.4 150.7L372.7 147.3L372.9 148.1L373.2 152.5L373.4 158.2L373.7 165.7L373.9 173.1L374.2 180.4L374.4 188.5L374.7 197.5L374.9 205.5L375.2 212.7L375.4 217.1L375.7 218.5L375.9 216.5L376.2 212L376.4 206.3L376.7 200.1L376.9 192.9L377.2 185.5L377.4 175.7L377.7 165.7L377.9 157.1L378.2 150.7L378.4 146.3L378.7 144L378.9 143.9L379.2 146.9L379.4 151.9L379.7 157.8L379.9 166.5L380.2 176L380.4 185L380.7 193.1L380.9 200.2L381.2 207.8L381.4 214.7L381.7 219L381.9 219.9L382.2 217.3L382.4 212.2L382.7 206.9L382.9 201L383.2 195.2L383.4 188.9L383.7 183.8L383.9 178.2L384.2 172.6L384.4 169.6L384.7 169.4L384.9 173.1L385.2 179.7L385.4 186.7L385.7 194.6L385.9 203.7L386.2 213.3L386.4 223.3L386.7 231.3L386.9 237.4L387.2 242.1L387.4 245.1L387.7 245.8L387.9 244.3L388.2 241L388.4 236L388.7 229.5L388.9 222.5L389.2 214.8L389.4 208.1L389.7 202.6L389.9 198.1L390.2 194.7L390.4 192.8L390.7 192.8L390.9 194.8L391.2 198.2L391.4 203.3L391.7 210L391.9 216.9L392.2 224.2L392.4 230.7L392.7 236.3L392.9 241.2L393.2 245.8L393.4 248.3L393.7 248.5L393.9 246.4L394.2 241.8L394.4 235.3L394.7 228.3L394.9 220.7L395.2 213L395.4 206.4L395.7 199.9L395.9 194.2L396.2 189.7L396.4 187.9L396.7 189L396.9 192.8L397.2 198.3L397.4 205.2L397.7 212.1L397.9 219.8L398.2 227.4L398.4 233.8L398.7 239.7L398.9 244L399.2 245.5L399.4 244.6L399.7 241.5L399.9 236.8L400.2 230.2L400.4 223.6L400.7 216L400.9 207.9L401.2 200.1L401.4 193L401.7 187.7L401.9 184.3L402.2 184.1L402.4 186.3L402.7 190.4L402.9 196.3L403.2 203.3L403.4 210.7L403.7 218.9L403.9 227.5L404.2 235L404.4 241.8L404.7 247.1L404.9 250.3L405.2 251.6L405.4 250.4L405.7 246.3L405.9 240.4L406.2 232.9L406.4 224.7L406.7 215.9L406.9 207.4L407.2 199L407.4 192.4L407.7 187.9L407.9 186L408.2 186.9L408.4 189.9L408.7 195.3L408.9 201.9L409.2 210.3L409.4 219.4L409.7 229.1L409.9 237.9L410.2 245.9L410.4 252.1L410.7 256.3L410.9 258L411.2 258L411.4 254.9L411.7 249.6L411.9 242.2L412.2 233.3L412.4 223.6L412.7 213.9L412.9 205.5L413.2 198.1L413.4 191.2L413.7 185.3L413.9 181.8L414.2 181.5L414.4 185L414.7 191.8L414.9 200L415.2 210L415.4 219.9L415.7 229.7L415.9 239.3L416.2 247.6L416.4 255L416.7 260.3L416.9 262.2L417.2 260L417.4 254.5L417.7 247.1L417.9 238.6L418.2 230.4L418.4 221L418.7 212.5L418.9 204.5L419.2 197.3L419.4 192L419.7 189.7L419.9 191.1L420.2 195.7L420.4 202.6L420.7 211.1L420.9 221.5L421.2 232.8L421.4 245.3L421.7 256.4L421.9 266.7L422.2 273.9L422.4 278.7L422.7 280.9L422.9 280L423.2 275.6L423.4 268.4L423.7 258.5L423.9 247.1L424.2 234.8L424.4 222.9L424.7 212.5L424.9 203.3L425.2 196.4L425.4 192.1L425.7 191.3L425.9 193.9L426.2 199.1L426.4 207.2L426.7 216.3L426.9 226.3L427.2 236.6L427.4 247.3L427.7 256.9L427.9 264.8L428.2 270.4L428.4 272.1L428.7 271L428.9 265.8L429.2 258.7L429.4 248.9L429.7 238.2L429.9 225.6L430.2 212.8L430.4 200.9L430.7 190.1L430.9 180L431.2 170L431.4 163.6L431.7 162.1L431.9 165.7L432.2 173.7L432.4 183.4L432.7 193.4L432.9 204L433.2 214.6L433.4 223.9L433.7 232.7L433.9 240.5L434.2 245.4L434.4 247L434.7 244.2L434.9 238.1L435.2 229.8L435.4 219.3L435.7 208.4L435.9 196L436.2 183.8L436.4 172.8L436.7 163.7L436.9 157.7L437.2 156.3L437.4 160.1L437.7 167.3L437.9 175.7L438.2 185.1L438.4 195.6L438.7 207.2L438.9 220.1L439.2 232.5L439.4 242.8L439.7 250.6L439.9 255.4L440.2 257.3L440.4 256.1L440.7 251.8L440.9 245.7L441.2 237.4L441.4 227.4L441.7 216.6L441.9 206L442.2 196.4L442.4 188.1L442.7 180.9L442.9 176.7L443.2 176.6L443.4 179.2L443.7 185L443.9 192.5L444.2 202L444.4 213.2L444.7 225.5L444.9 236.6L445.2 245.9L445.4 255L445.7 262.3L445.9 268.1L446.2 270.9L446.4 269.4L446.7 264L446.9 256.8L447.2 247.5L447.4 238.1L447.7 228.2L447.9 218.8L448.2 209.6L448.4 202.1L448.7 196.7L448.9 195.5L449.2 197.6L449.4 203.2L449.7 211.1L449.9 219.8L450.2 229.9L450.4 241.4L450.7 252.4L450.9 262.5L451.2 271.2L451.4 277.2L451.7 281.1L451.9 281.8L452.2 279.6L452.4 275.1L452.7 269L452.9 261.4L453.2 252.9L453.4 244.3L453.7 235.3L453.9 227.5L454.2 220.4L454.4 214.9L454.7 212L454.9 211.8L455.2 215L455.4 220.2L455.7 227.2L455.9 235.3L456.2 244.7L456.4 254.7L456.7 263.8L456.9 272.4L457.2 279.7L457.4 285.3L457.7 288.8L457.9 289.2L458.2 286.7L458.4 281.9L458.7 274.5L458.9 266.1L459.2 256.8L459.4 247.9L459.7 239.2L459.9 231.3L460.2 225L460.4 220.9L460.7 219.5L460.9 221.2L461.2 225.5L461.4 231.3L461.7 239.1L461.9 247L462.2 256.1L462.4 265.4L462.7 274.4L462.9 282.6L463.2 287.9L463.4 290.2L463.7 289.3L463.9 285.3L464.2 279.8L464.4 272.4L464.7 264.3L464.9 254.6L465.2 244.4L465.4 234.5L465.7 226L465.9 218.3L466.2 212.8L466.4 209.3L466.7 208.3L466.9 210.7L467.2 215.5L467.4 221.7L467.7 229.5L467.9 237.3L468.2 245.1L468.4 252.4L468.7 259.8L468.9 265.7L469.2 269.8L469.4 270.8L469.7 268.2L469.9 263.6L470.2 257L470.4 249.6L470.7 241.4L470.9 232.2L471.2 223.2L471.4 214.7L471.7 207.4L471.9 201.1L472.2 196.1L472.4 193.1L472.7 193.2L472.9 196.4L473.2 201.9L473.4 209L473.7 216.7L473.9 225L474.2 232.6L474.4 239.4L474.7 245.4L474.9 250.2L475.2 252L475.4 251.1L475.7 247.8L475.9 242.7L476.2 236.8L476.4 229.5L476.7 221.7L476.9 212.9L477.2 205.7L477.4 198.4L477.7 191.6L477.9 184.4L478.2 179.5L478.4 178.3L478.7 180.8L478.9 185.3L479.2 191.1L479.4 197L479.7 204.3L479.9 211.9L480.2 219.4L480.4 226.7L480.7 232.8L480.9 236.5L481.2 237.1L481.4 234.4L481.7 228.3L481.9 221.2L482.2 212.4L482.4 202.3L482.7 190.5L482.9 178.6L483.2 167.9L483.4 159.5L483.7 152.8L483.9 148.6L484.2 147.2L484.4 148.8L484.7 153.3L484.9 161.1L485.2 170.7L485.4 181.9L485.7 193.8L485.9 204.7L486.2 214.4L486.4 223.8L486.7 232.5L486.9 238.4L487.2 239.9L487.4 237.2L487.7 231.2L487.9 223.6L488.2 215.5L488.4 207.5L488.7 198.9L488.9 191.5L489.2 184.6L489.4 177.5L489.7 172.7L489.9 171.5L490.2 174.5L490.4 180.6L490.7 188.6L490.9 197.3L491.2 207L491.4 217L491.7 227.2L491.9 236.6L492.2 244.4L492.4 250.3L492.7 254.3L492.9 255.5L493.2 253.7L493.4 249.5L493.7 242.9L493.9 235.1L494.2 226L494.4 216.7L494.7 206.9L494.9 197.9L495.2 191L495.4 186.2L495.7 184L495.9 185L496.2 188.8L496.4 194.6L496.7 202L496.9 211L497.2 221.7L497.4 232.4L497.7 242.6L497.9 251.1L498.2 257.8L498.4 262.4L498.7 263.9L498.9 263.6L499.2 260.8L499.4 255.2L499.7 247.3L499.9 236.9L500.2 225.4L500.4 214L500.7 203.9L500.9 195.2L501.2 188.4L501.4 183.7L501.7 181.3L501.9 181.8L502.2 185.8L502.4 191.8L502.7 199.5L502.9 207.8L503.2 216.5L503.4 224.6L503.7 232.7L503.9 239.5L504.2 244.4L504.4 246.9L504.7 246.6L504.9 242.9L505.2 237L505.4 230.4L505.7 222.1L505.9 212.8L506.2 203.7L506.4 194.6L506.7 186.7L506.9 180.2L507.2 174.8L507.4 171.6L507.7 171.2L507.9 173.6L508.2 178.8L508.4 186.2L508.7 194.2L508.9 202.7L509.2 211L509.4 219L509.7 226.5L509.9 232.2L510.2 236.3L510.4 237L510.7 235.4L510.9 231.2L511.2 225.5L511.4 218.8L511.7 211.4L511.9 203L512.2 194.8L512.5 186.8L512.7 179.9L513 174.7L513.2 172.7L513.5 173.5L513.7 177.7L514 183.5L514.2 190.2L514.5 198L514.7 206.9L515 217.4L515.2 225.8L515.5 233.9L515.7 240.8L516 247.3L516.2 252.3L516.5 254.7L516.7 253.3L517 248.4L517.2 242.7L517.5 236.5L517.7 229.5L518 222.4L518.2 215.4L518.5 209.3L518.7 203.7L519 200.8L519.2 200.3L519.5 203.5L519.7 209.7L520 216.6L520.2 224.2L520.5 231.8L520.7 241L521 250.7L521.2 259.2L521.5 266.3L521.7 272.7L522 277.4L522.2 279.7L522.5 278.9L522.7 274.9L523 268.5L523.2 261.4L523.5 253.1L523.7 244.9L524 236.3L524.2 228.4L524.5 221.6L524.7 216.5L525 213.7L525.2 213.7L525.5 216.6L525.7 222.2L526 229.2L526.2 237.7L526.5 246.9L526.7 257.7L527 267.8L527.2 276.6L527.5 283.6L527.7 287.6L528 287.9L528.2 286L528.5 280.8L528.7 274.2L529 265.5L529.2 254.3L529.5 242L529.7 229.4L530 218.7L530.2 209.7L530.5 202.4L530.7 196.7L531 194.1L531.2 193.8L531.5 197.3L531.7 203.6L532 212.1L532.2 221.9L532.5 232.3L532.7 241.8L533 250.1L533.2 257.1L533.5 261.4L533.7 263.2L534 261.1L534.2 255.9L534.5 249L534.7 241.9" stroke="#F0AE2A"/>
</g>
<path d="M59.20 402.8v-4.8M59.20 10.5v4.8M118.65 402.8v-4.8M118.65 10.5v4.8M178.10 402.8v-4.8M178.10 10.5v4.8M237.55 402.8v-4.8M237.55 10.5v4.8M297.00 402.8v-4.8M297.00 10.5v4.8M356.45 402.8v-4.8M356.45 10.5v4.8M415.90 402.8v-4.8M415.90 10.5v4.8M475.35 402.8v-4.8M475.35 10.5v4.8M534.80 402.8v-4.8M534.80 10.5v4.8M59.2 402.80h4.8M534.8 402.80h-4.8M59.2 359.21h4.8M534.8 359.21h-4.8M59.2 315.62h4.8M534.8 315.62h-4.8M59.2 272.03h4.8M534.8 272.03h-4.8M59.2 228.44h4.8M534.8 228.44h-4.8M59.2 184.86h4.8M534.8 184.86h-4.8M59.2 141.27h4.8M534.8 141.27h-4.8M59.2 97.68h4.8M534.8 97.68h-4.8M59.2 54.09h4.8M534.8 54.09h-4.8M59.2 10.50h4.8M534.8 10.50h-4.8" stroke="#444444" stroke-width="1" fill="none"/>
<rect x="59.2" y="10.5" width="475.6" height="392.3" fill="none" stroke="#444444" stroke-width="1"/>
<g font-family="'Liberation Sans', Arial, Helvetica, sans-serif" font-size="14.8" fill="#262626" stroke="#262626" stroke-width="0.3"><text x="54.4" y="408.6" text-anchor="end">0.1</text><text x="54.4" y="365.0" text-anchor="end">0.15</text><text x="54.4" y="321.4" text-anchor="end">0.2</text><text x="54.4" y="277.8" text-anchor="end">0.25</text><text x="54.4" y="234.2" text-anchor="end">0.3</text><text x="54.4" y="190.7" text-anchor="end">0.35</text><text x="54.4" y="147.1" text-anchor="end">0.4</text><text x="54.4" y="103.5" text-anchor="end">0.45</text><text x="54.4" y="59.9" text-anchor="end">0.5</text><text x="54.4" y="16.3" text-anchor="end">0.55</text><text x="59.2" y="423.4" text-anchor="middle">100</text><text x="118.7" y="423.4" text-anchor="middle">150</text><text x="178.1" y="423.4" text-anchor="middle">200</text><text x="237.6" y="423.4" text-anchor="middle">250</text><text x="297.0" y="423.4" text-anchor="middle">300</text><text x="356.4" y="423.4" text-anchor="middle">350</text><text x="415.9" y="423.4" text-anchor="middle">400</text><text x="475.3" y="423.4" text-anchor="middle">450</text><text x="534.8" y="423.4" text-anchor="middle">500</text></g>
<text font-family="'Liberation Sans', Arial, Helvetica, sans-serif" font-size="16.2" fill="#262626" stroke="#262626" stroke-width="0.3" x="297" y="444.3" text-anchor="middle">Time (s)</text>
<text font-family="'Liberation Sans', Arial, Helvetica, sans-serif" font-size="16.4" fill="#262626" stroke="#262626" stroke-width="0.3" transform="translate(16.9 205.8) rotate(-90)" text-anchor="middle">Pitch angle (rad)</text>
<rect x="110.4" y="29.3" width="226.0" height="111.1" fill="#fff"/>
<g clip-path="url(#ci)" fill="none" stroke-width="1.45" stroke-linejoin="round">
<path d="M110.4 92.8L110.9 95.3L111.4 97.2L111.9 99.3L112.4 101.3L112.9 104L113.4 105.2L113.9 106.6L114.4 108.5L114.9 110.4L115.4 111.7L115.9 112.6L116.4 114.4L116.9 115.6L117.4 116.6L117.9 117.2L118.4 116.4L118.9 115L119.4 114L119.9 112.6L120.4 110.9L120.9 109.4L121.4 108.2L121.9 107L122.4 105.3L122.9 103.3L123.4 100.4L123.9 98.8L124.4 96.4L124.9 94.1L125.4 91.5L125.9 89.4L126.4 87.2L126.9 85.9L127.4 83.2L127.9 80.8L128.4 78.6L128.9 76.3L129.4 74L129.9 71.4L130.4 69.3L130.9 67.4L131.4 65.4L131.9 63.5L132.4 62.2L132.9 60.5L133.4 58.8L133.9 57.2L134.4 56.2L134.9 55L135.4 53.9L135.9 53L136.4 52.8L136.9 53.5L137.4 54.9L137.9 56.1L138.4 56.9L138.9 58.4L139.4 60L139.9 61L140.4 62.1L140.9 62.9L141.4 65.1L141.9 66.4L142.4 68L142.9 69.6L143.4 71.3L143.9 73.5L144.4 75.5L144.9 77.6L145.4 78.7L145.9 81L146.4 82.1L146.9 83.9L147.4 84.9L147.9 86.8L148.4 88.7L148.9 90L149.4 91.2L149.9 93L150.4 94.5L150.9 95.1L151.4 95.9L151.9 97.1L152.4 97.4L152.9 98.4L153.4 98L153.9 97.1L154.4 96.5L154.9 96.1L155.4 94.3L155.9 93.2L156.4 91.6L156.9 89.5L157.4 88.1L157.9 85.8L158.4 83.8L158.9 81.2L159.4 79.2L159.9 77L160.4 75.6L160.9 73.5L161.4 71.5L161.9 69.3L162.4 66.4L162.9 63.9L163.4 61.7L163.9 59.6L164.4 56.8L164.9 55.1L165.4 53L165.9 51.1L166.4 49.6L166.9 47.4L167.4 45.6L167.9 44.2L168.4 42.3L168.9 40.7L169.4 39.3L169.9 38.3L170.4 37.2L170.9 36.8L171.4 37.5L171.9 38.9L172.4 40.1L172.9 41.3L173.4 42.4L173.9 43.9L174.4 45.2L174.9 47.8L175.4 49L175.9 51.4L176.4 53.9L176.9 55.6L177.4 58.2L177.9 60.8L178.4 63L178.9 65.3L179.4 67.8L179.9 70.6L180.4 72.9L180.9 75.2L181.4 77.8L181.9 80L182.4 83.3L182.9 85.7L183.4 87.7L183.9 90.2L184.4 92.1L184.9 93.9L185.4 95.6L185.9 97.4L186.4 99L186.9 101.1L187.4 102.7L187.9 104.2L188.4 105.4L188.9 106.5L189.4 107.6L189.9 105.6L190.4 105.1L190.9 103.6L191.4 102L191.9 100.4L192.4 99L192.9 97.2L193.4 95.5L193.9 94.1L194.4 91.7L194.9 90.1L195.4 87.9L195.9 84.3L196.4 82.3L196.9 80.4L197.4 78L197.9 75.8L198.4 73.8L198.9 71.8L199.4 69.8L199.9 67.9L200.4 65.3L200.9 63.4L201.4 60.7L201.9 59.1L202.4 57L202.9 56.1L203.4 55L203.9 53.5L204.4 52.1L204.9 51.5L205.4 51.1L205.9 52L206.4 53L206.9 53.9L207.4 54.1L207.9 56.4L208.4 57.4L208.9 59.1L209.4 61.5L209.9 63.1L210.4 64.9L210.9 66.9L211.4 69.3L211.9 71.4L212.4 73.6L212.9 75.2L213.4 77.2L213.9 80L214.4 81.8L214.9 84.7L215.4 86.8L215.9 89.2L216.4 91.3L216.9 93.4L217.4 95.1L217.9 96.8L218.4 98.7L218.9 100.2L219.4 102.1L219.9 103.7L220.4 105.3L220.9 106.8L221.4 108.2L221.9 109.8L222.4 110.2L222.9 110.5L223.4 109.6L223.9 108.7L224.4 107.4L224.9 106.2L225.4 105.1L225.9 104L226.4 102.7L226.9 101.3L227.4 99.2L227.9 97.5L228.4 95.1L228.9 93.9L229.4 91.9L229.9 89.9L230.4 87.6L230.9 86L231.4 84L231.9 82.2L232.4 80.1L232.9 78.5L233.4 76.8L233.9 75.3L234.4 73.7L234.9 71.5L235.4 70.2L235.9 68.8L236.4 67.5L236.9 66.4L237.4 65.9L237.9 65.1L238.4 65.6L238.9 66.5L239.4 67.3L239.9 68.1L240.4 69.3L240.9 70.1L241.4 72L241.9 73L242.4 75.2L242.9 77.1L243.4 78.7L243.9 80.4L244.4 82.8L244.9 84.3L245.4 86.5L245.9 88.3L246.4 90.1L246.9 92.2L247.4 94.6L247.9 96.7L248.4 98.7L248.9 101.2L249.4 103.3L249.9 105.2L250.4 107L250.9 108.6L251.4 110.2L251.9 111.6L252.4 113.1L252.9 115.4L253.4 116.6L253.9 118.4L254.4 119.4L254.9 121L255.4 121.7L255.9 123.4L256.4 123L256.9 122.5L257.4 122L257.9 121.2L258.4 119.5L258.9 119.1L259.4 118.3L259.9 116.6L260.4 115.7L260.9 113.9L261.4 112L261.9 110.4L262.4 108.5L262.9 106.4L263.4 105.5L263.9 103.1L264.4 101.3L264.9 100L265.4 98.1L265.9 96.6L266.4 94.2L266.9 92.4L267.4 90.3L267.9 88.4L268.4 86.5L268.9 84.8L269.4 83.8L269.9 81.9L270.4 80.6L270.9 79.5L271.4 78.5L271.9 77.3L272.4 76.2L272.9 74.5L273.4 73.9L273.9 72.9L274.4 73.4L274.9 74.4L275.4 75L275.9 76.8L276.4 78L276.9 79L277.4 80.6L277.9 82.3L278.4 83.2L278.9 84.8L279.4 86.2L279.9 87.8L280.4 89.7L280.9 91.9L281.4 94.4L281.9 96.4L282.4 98L282.9 100.3L283.4 101.8L283.9 103.4L284.4 105.5L284.9 106.9L285.4 108.6L285.9 111.2L286.4 112.3L286.9 114.7L287.4 115.9L287.9 117.8L288.4 119.1L288.9 120.2L289.4 120.8L289.9 122.2L290.4 123.1L290.9 123.7L291.4 124.8L291.9 124.9L292.4 123.9L292.9 123.5L293.4 122.2L293.9 121.5L294.4 120.2L294.9 119.2L295.4 117.3L295.9 115.7L296.4 114.4L296.9 112.4L297.4 111.5L297.9 109.6L298.4 108.1L298.9 106.8L299.4 104.8L299.9 103.2L300.4 100.6L300.9 99.1L301.4 97.2L301.9 95.6L302.4 93.7L302.9 93L303.4 91.6L303.9 90.1L304.4 88.7L304.9 87.6L305.4 86.9L305.9 85.3L306.4 84.1L306.9 83.4L307.4 82.6L307.9 82.9L308.4 84.1L308.9 85.1L309.4 86.4L309.9 87.1L310.4 88.7L310.9 89.8L311.4 91.2L311.9 92.6L312.4 94L312.9 95.8L313.4 98.1L313.9 99.7L314.4 101.7L314.9 104.2L315.4 106.3L315.9 107.9L316.4 109.8L316.9 111.3L317.4 113.2L317.9 115.2L318.4 116.9L318.9 118.6L319.4 120.4L319.9 121.8L320.4 123.9L320.9 125.3L321.4 126.7L321.9 127.9L322.4 128.4L322.9 129.2L323.4 129.4L323.9 129.9L324.4 129.1L324.9 128.6L325.4 127.7L325.9 126.7L326.4 125.9L326.9 124L327.4 122.9L327.9 121.3L328.4 119.2L328.9 117.4L329.4 116.2L329.9 114.5L330.4 113.1L330.9 111.5L331.4 109.5L331.9 108L332.4 106.4L332.9 104L333.4 102L333.9 99.9L334.4 98.5L334.9 97L335.4 94.7L335.9 93.8L336.4 92.4" stroke="#1F95D6"/>
<path d="M110.4 110.8L110.9 109.7L111.4 108.8L111.9 106.2L112.4 104.8L112.9 102.5L113.4 100.7L113.9 98.8L114.4 96.7L114.9 94.7L115.4 92.7L115.9 90.4L116.4 88.2L116.9 85.6L117.4 83.5L117.9 80.9L118.4 78.6L118.9 76.6L119.4 74.4L119.9 72.5L120.4 70.9L120.9 68.4L121.4 67.6L121.9 66L122.4 64.5L122.9 62.8L123.4 61.9L123.9 60.8L124.4 60.1L124.9 60.6L125.4 61.6L125.9 62.8L126.4 64.2L126.9 65.4L127.4 66.4L127.9 67.6L128.4 68.9L128.9 70.2L129.4 71.4L129.9 73.2L130.4 74.5L130.9 76.3L131.4 78.5L131.9 80.3L132.4 82.3L132.9 83.8L133.4 86.2L133.9 87.7L134.4 89.3L134.9 91L135.4 92.5L135.9 93.9L136.4 96.3L136.9 97.4L137.4 99.4L137.9 101.2L138.4 102L138.9 103.3L139.4 104.1L139.9 105.4L140.4 105.8L140.9 106.3L141.4 107.5L141.9 106.9L142.4 105.5L142.9 104.9L143.4 103.4L143.9 102.5L144.4 100.5L144.9 98L145.4 95.9L145.9 93.5L146.4 91.4L146.9 89L147.4 86.9L147.9 84.4L148.4 81.7L148.9 79.4L149.4 77.4L149.9 74.6L150.4 71.5L150.9 68.6L151.4 65.8L151.9 63L152.4 60L152.9 58.2L153.4 55.5L153.9 53.5L154.4 50.7L154.9 49.2L155.4 47.3L155.9 44.4L156.4 43.2L156.9 41.1L157.4 39.1L157.9 37.5L158.4 36.9L158.9 35.8L159.4 35.4L159.9 36.2L160.4 37.2L160.9 38.6L161.4 39.3L161.9 40.9L162.4 41.6L162.9 43.2L163.4 44.8L163.9 47.3L164.4 48.6L164.9 50.9L165.4 53.5L165.9 55.5L166.4 58.1L166.9 60.1L167.4 61.8L167.9 63.9L168.4 65.4L168.9 67.9L169.4 70.4L169.9 72.9L170.4 75L170.9 77.5L171.4 79.7L171.9 82.2L172.4 83.9L172.9 85.5L173.4 87.2L173.9 89L174.4 90.4L174.9 92.2L175.4 93.5L175.9 95.6L176.4 97.1L176.9 98.1L177.4 99.1L177.9 99.8L178.4 99.6L178.9 98.1L179.4 96.7L179.9 95.6L180.4 94.9L180.9 93.9L181.4 92.6L181.9 91.2L182.4 89.5L182.9 87.4L183.4 85.6L183.9 83.3L184.4 81.6L184.9 79.3L185.4 77.7L185.9 75.7L186.4 73.5L186.9 72.3L187.4 70.5L187.9 68.1L188.4 66.5L188.9 64.7L189.4 62.5L189.9 60.8L190.4 58.9L190.9 57.6L191.4 56L191.9 54.7L192.4 53.9L192.9 53L193.4 51.9L193.9 50.8L194.4 49.9L194.9 50.6L195.4 51.4L195.9 52.6L196.4 53.8L196.9 55.3L197.4 57L197.9 58.9L198.4 61.2L198.9 63L199.4 64.5L199.9 66.6L200.4 68.4L200.9 70.4L201.4 72.5L201.9 74.6L202.4 76.8L202.9 78.9L203.4 82L203.9 84.6L204.4 86.3L204.9 88.8L205.4 90.4L205.9 92.4L206.4 93.8L206.9 95.6L207.4 97.3L207.9 98.3L208.4 100.5L208.9 101.9L209.4 102.6L209.9 104.5L210.4 105.1L210.9 104.4L211.4 103.4L211.9 102.2L212.4 100.9L212.9 100L213.4 98.9L213.9 98.4L214.4 97.1L214.9 95.3L215.4 93.8L215.9 92.4L216.4 90.7L216.9 88.5L217.4 86.5L217.9 85.4L218.4 83.4L218.9 81.1L219.4 79.5L219.9 78.2L220.4 76.9L220.9 75.4L221.4 73.5L221.9 71.5L222.4 70.3L222.9 68.9L223.4 67.3L223.9 65.9L224.4 65.2L224.9 64.2L225.4 63.2L225.9 62.9L226.4 62L226.9 63L227.4 63.6L227.9 64.1L228.4 65.4L228.9 66.8L229.4 67.3L229.9 69.4L230.4 71.6L230.9 72.7L231.4 75L231.9 76.7L232.4 78.9L232.9 80.2L233.4 82.3L233.9 84.4L234.4 86.6L234.9 88.8L235.4 91.1L235.9 93.6L236.4 95.8L236.9 98.1L237.4 99.9L237.9 102L238.4 104.7L238.9 106.2L239.4 107.5L239.9 109.1L240.4 110.8L240.9 112.1L241.4 114.3L241.9 115.2L242.4 116.6L242.9 118.3L243.4 118.2L243.9 119.5L244.4 118.5L244.9 117.9L245.4 117.2L245.9 116.3L246.4 115.7L246.9 114.6L247.4 113.9L247.9 112.7L248.4 111.8L248.9 110.3L249.4 109.3L249.9 107.3L250.4 106.2L250.9 104.3L251.4 102.9L251.9 101.8L252.4 100.2L252.9 98.3L253.4 97.5L253.9 95.2L254.4 94.4L254.9 92.5L255.4 90.5L255.9 89.2L256.4 87.5L256.9 86.7L257.4 84.8L257.9 84.2L258.4 83L258.9 81.4L259.4 80.3L259.9 79.6L260.4 78.1L260.9 77.1L261.4 75.9L261.9 74.8L262.4 74.3L262.9 73.6L263.4 73.9L263.9 75.1L264.4 76.7L264.9 77.7L265.4 78.4L265.9 79.5L266.4 80.8L266.9 82.2L267.4 83.4L267.9 84.8L268.4 86.5L268.9 88.8L269.4 91.2L269.9 92.4L270.4 94L270.9 96.5L271.4 98.1L271.9 99.8L272.4 101.8L272.9 103.3L273.4 104.8L273.9 106.5L274.4 108.9L274.9 110.5L275.4 112.7L275.9 113.9L276.4 115.6L276.9 116.5L277.4 117.9L277.9 118.8L278.4 120L278.9 121.1L279.4 121.7L279.9 122.4L280.4 122.7L280.9 121.7L281.4 121L281.9 120L282.4 119.1L282.9 117.7L283.4 116.2L283.9 114.8L284.4 113L284.9 111.8L285.4 110.6L285.9 109.3L286.4 107.8L286.9 106.4L287.4 104.6L287.9 102.7L288.4 100.5L288.9 99.3L289.4 97.4L289.9 95.4L290.4 94.3L290.9 92.8L291.4 91.5L291.9 89.7L292.4 88.5L292.9 87.3L293.4 86.5L293.9 84.5L294.4 83.4L294.9 82.1L295.4 81.4L295.9 80.9L296.4 79.8L296.9 80L297.4 81.9L297.9 82.7L298.4 83.6L298.9 85L299.4 86.2L299.9 86.6L300.4 88.5L300.9 90.4L301.4 91.7L301.9 93.8L302.4 96.1L302.9 97.9L303.4 99.6L303.9 101.7L304.4 103.3L304.9 105.6L305.4 106.8L305.9 109.3L306.4 110.6L306.9 113L307.4 114.6L307.9 116.9L308.4 119.1L308.9 120.8L309.4 122.3L309.9 123.2L310.4 124.3L310.9 125.4L311.4 126.4L311.9 127.1L312.4 128.4L312.9 128.6L313.4 128.3L313.9 127.5L314.4 126.7L314.9 125.3L315.4 124.2L315.9 122.6L316.4 121.5L316.9 120.1L317.4 118.9L317.9 117L318.4 116.8L318.9 114.6L319.4 113.5L319.9 111.8L320.4 109.2L320.9 107.9L321.4 106.4L321.9 103.5L322.4 102.4L322.9 100.3L323.4 98.7L323.9 97.4L324.4 95.4L324.9 94.5L325.4 92.8L325.9 91.2L326.4 90L326.9 89.2L327.4 86.9L327.9 85.6L328.4 84.3L328.9 83.2L329.4 82.7L329.9 82.4L330.4 81.5L330.9 81.1L331.4 81.5L331.9 82.9L332.4 82.6L332.9 84.1L333.4 85.1L333.9 86.4L334.4 87.5L334.9 89.2L335.4 91.3L335.9 93.2L336.4 94.7" stroke="#D63A5C"/>
<path d="M110.4 68.4L110.9 66L111.4 65L111.9 62.9L112.4 62.5L112.9 63.6L113.4 64.7L113.9 65L114.4 67L114.9 68.4L115.4 69.7L115.9 70L116.4 71.8L116.9 73.4L117.4 75L117.9 77.2L118.4 78.7L118.9 81.3L119.4 83.3L119.9 84.9L120.4 87.1L120.9 89.2L121.4 91.2L121.9 93.2L122.4 94.8L122.9 97L123.4 98.4L123.9 100L124.4 102.7L124.9 104.9L125.4 106.4L125.9 107.9L126.4 109.6L126.9 111.2L127.4 111.8L127.9 112.7L128.4 113.6L128.9 115.3L129.4 115.7L129.9 115.8L130.4 115.1L130.9 113.9L131.4 112.1L131.9 111L132.4 109.1L132.9 107.1L133.4 105.2L133.9 102.7L134.4 100.8L134.9 98.6L135.4 96.8L135.9 94.2L136.4 92.1L136.9 89.2L137.4 86.8L137.9 84L138.4 81.2L138.9 78.5L139.4 75.7L139.9 73.1L140.4 70.2L140.9 68.6L141.4 65.9L141.9 63.6L142.4 61.1L142.9 59.2L143.4 56.3L143.9 54.4L144.4 52.4L144.9 50.6L145.4 48.8L145.9 47.2L146.4 45.5L146.9 44.9L147.4 43.8L147.9 42.7L148.4 42.7L148.9 43.2L149.4 43.9L149.9 45.2L150.4 46.4L150.9 47.2L151.4 49.3L151.9 50.9L152.4 52.9L152.9 54.6L153.4 56.6L153.9 58.4L154.4 60.1L154.9 61.4L155.4 63.8L155.9 65.7L156.4 67.5L156.9 70.2L157.4 72L157.9 74.9L158.4 77.3L158.9 78.8L159.4 81L159.9 82.7L160.4 84.4L160.9 85.6L161.4 87.7L161.9 89.3L162.4 91.1L162.9 92.5L163.4 94.3L163.9 95.4L164.4 96.6L164.9 97.7L165.4 98L165.9 97.8L166.4 96.6L166.9 95.5L167.4 94.1L167.9 93.2L168.4 92L168.9 90.2L169.4 88.9L169.9 87L170.4 84.6L170.9 82.7L171.4 80.7L171.9 77.9L172.4 75.4L172.9 73.7L173.4 71.4L173.9 69.9L174.4 67.4L174.9 65.3L175.4 63L175.9 61L176.4 58.6L176.9 56.3L177.4 54.5L177.9 52.4L178.4 51.3L178.9 49.3L179.4 48.3L179.9 47.1L180.4 45.8L180.9 45.6L181.4 43.7L181.9 45L182.4 45.1L182.9 46.5L183.4 48.4L183.9 48.8L184.4 50.8L184.9 53.4L185.4 55.2L185.9 57.2L186.4 59.4L186.9 61.3L187.4 63.7L187.9 66.2L188.4 68L188.9 70.5L189.4 73.3L189.9 76.1L190.4 78.1L190.9 81L191.4 83.3L191.9 85.7L192.4 88L192.9 90L193.4 91.7L193.9 93.5L194.4 95.7L194.9 97.8L195.4 99.9L195.9 101.2L196.4 102.9L196.9 104.5L197.4 105.6L197.9 106.3L198.4 105.7L198.9 105.2L199.4 103.5L199.9 102.4L200.4 101L200.9 100.4L201.4 99L201.9 98.3L202.4 96.3L202.9 95L203.4 93.3L203.9 91.5L204.4 88.8L204.9 87.4L205.4 85.1L205.9 83.2L206.4 81.3L206.9 79.6L207.4 77.8L207.9 75.5L208.4 74.3L208.9 72.2L209.4 70L209.9 68.2L210.4 66.9L210.9 64.7L211.4 63L211.9 62.2L212.4 60.3L212.9 59.4L213.4 58.2L213.9 57.2L214.4 56.4L214.9 55.3L215.4 54L215.9 54.6L216.4 55.7L216.9 56.8L217.4 58.4L217.9 60L218.4 61.9L218.9 64L219.4 65.7L219.9 68L220.4 69.8L220.9 71.7L221.4 73.9L221.9 76.3L222.4 78.9L222.9 81.6L223.4 84.2L223.9 86.7L224.4 89.9L224.9 92.2L225.4 94.4L225.9 96.8L226.4 98.7L226.9 100.7L227.4 102.8L227.9 105.5L228.4 107.1L228.9 109.1L229.4 110.5L229.9 112.3L230.4 114.1L230.9 114.7L231.4 115.7L231.9 115.5L232.4 114.5L232.9 113.9L233.4 112.7L233.9 111.9L234.4 110.8L234.9 110.6L235.4 108.9L235.9 107.5L236.4 106.3L236.9 104.2L237.4 102.6L237.9 100.7L238.4 99.2L238.9 97.5L239.4 96.2L239.9 94.6L240.4 92.9L240.9 91.4L241.4 89.8L241.9 87.9L242.4 86.5L242.9 84.6L243.4 82.8L243.9 80.9L244.4 79.9L244.9 78.2L245.4 77.5L245.9 76.4L246.4 75.3L246.9 74.2L247.4 73.2L247.9 72.8L248.4 71.3L248.9 70.5L249.4 71.1L249.9 71.7L250.4 72.8L250.9 73.3L251.4 74.5L251.9 76.8L252.4 77.1L252.9 78.1L253.4 79.4L253.9 80.7L254.4 81.4L254.9 83.2L255.4 84.7L255.9 86.6L256.4 88.3L256.9 89.9L257.4 91.7L257.9 93L258.4 95.4L258.9 96.4L259.4 98.2L259.9 100.2L260.4 101.4L260.9 103.4L261.4 105L261.9 107L262.4 108.6L262.9 110.1L263.4 112.1L263.9 113L264.4 114L264.9 115.3L265.4 116.6L265.9 117.3L266.4 118.8L266.9 119.9L267.4 121.4L267.9 121.7L268.4 122.9L268.9 122.9L269.4 122.4L269.9 121.6L270.4 120.5L270.9 119.2L271.4 117.9L271.9 116.5L272.4 115.3L272.9 114.2L273.4 112.9L273.9 111.4L274.4 109.8L274.9 107.9L275.4 105.2L275.9 103.5L276.4 101.5L276.9 99.4L277.4 98L277.9 96.2L278.4 94.3L278.9 92.7L279.4 91.3L279.9 89.2L280.4 87.5L280.9 86L281.4 84.2L281.9 82.9L282.4 81.2L282.9 80.2L283.4 78.9L283.9 78L284.4 77.6L284.9 76.3L285.4 77.5L285.9 78.4L286.4 79L286.9 79.8L287.4 81.1L287.9 82L288.4 83.7L288.9 85.6L289.4 87.1L289.9 89L290.4 90.7L290.9 92.5L291.4 94.2L291.9 95.9L292.4 97.9L292.9 99L293.4 101.2L293.9 103.5L294.4 105.2L294.9 107.5L295.4 109.4L295.9 111.7L296.4 113.6L296.9 115.3L297.4 116.6L297.9 117.6L298.4 119.2L298.9 120.6L299.4 122.1L299.9 122.5L300.4 124.4L300.9 125L301.4 126.5L301.9 126.6L302.4 125.8L302.9 124.9L303.4 123.7L303.9 122.3L304.4 121.3L304.9 120.4L305.4 118.9L305.9 117.7L306.4 116.1L306.9 115.3L307.4 113.3L307.9 111.5L308.4 109.7L308.9 107.7L309.4 106L309.9 104.5L310.4 102.7L310.9 101.3L311.4 99.8L311.9 97.8L312.4 96.6L312.9 95.3L313.4 93.9L313.9 91.4L314.4 89.9L314.9 88.9L315.4 87.5L315.9 86.3L316.4 85.8L316.9 84.9L317.4 84L317.9 84.2L318.4 84.9L318.9 85.7L319.4 86.4L319.9 86.9L320.4 87.7L320.9 88.6L321.4 89.6L321.9 91.2L322.4 93.1L322.9 94.6L323.4 96.5L323.9 97.4L324.4 98.5L324.9 100.5L325.4 102L325.9 102.9L326.4 104.4L326.9 106.5L327.4 108.4L327.9 109.8L328.4 111.7L328.9 113.3L329.4 114.7L329.9 116.1L330.4 117.7L330.9 118.7L331.4 119.8L331.9 120.5L332.4 122.7L332.9 123.2L333.4 124.6L333.9 125.4L334.4 126.7L334.9 126.9L335.4 127.6L335.9 126.7L336.4 126" stroke="#F2AF28"/>
<path d="M110.4 88.2L110.9 87.9L111.4 87.3L111.9 87L112.4 87L112.9 87.2L113.4 87.4L113.9 88L114.4 88.3L114.9 88.4L115.4 89.1L115.9 88.9L116.4 88.2L116.9 88.1L117.4 87.2L117.9 86.6L118.4 86.6L118.9 85.6L119.4 85.9L119.9 86.6L120.4 86.7L120.9 86.8L121.4 87.2L121.9 86.8L122.4 86L122.9 85.5L123.4 85.1L123.9 84.8L124.4 83.7L124.9 84L125.4 84L125.9 84L126.4 84.6L126.9 84.5L127.4 84.7L127.9 84.9L128.4 84.2L128.9 83.6L129.4 82.9L129.9 82.3L130.4 82L130.9 81.4L131.4 81.6L131.9 82L132.4 81.9L132.9 82L133.4 82.2L133.9 82L134.4 81L134.9 80.2L135.4 79.8L135.9 79L136.4 78.4L136.9 78.4L137.4 78.4L137.9 78.4L138.4 79.1L138.9 78.8L139.4 78.5L139.9 78.2L140.4 77.9L140.9 76.8L141.4 75.6L141.9 75.1L142.4 74.5L142.9 74.1L143.4 74.2L143.9 74.2L144.4 74.2L144.9 74.1L145.4 74.1L145.9 73.2L146.4 72.9L146.9 71.9L147.4 71.1L147.9 69.9L148.4 70.1L148.9 69.2L149.4 69.3L149.9 69.8L150.4 69.7L150.9 69.8L151.4 69.4L151.9 69.4L152.4 69L152.9 68.4L153.4 67.4L153.9 66.9L154.4 66.5L154.9 66.1L155.4 66.1L155.9 66.7L156.4 66.3L156.9 66.8L157.4 66.4L157.9 66.3L158.4 65.3L158.9 64.8L159.4 64L159.9 63.3L160.4 63.2L160.9 63.1L161.4 63.7L161.9 64.3L162.4 65.3L162.9 65.8L163.4 66.1L163.9 66.5L164.4 66.6L164.9 66.3L165.4 66.6L165.9 66.2L166.4 66.2L166.9 66L167.4 66.2L167.9 66.7L168.4 66.5L168.9 67L169.4 66.9L169.9 66.5L170.4 66L170.9 65.2L171.4 64.7L171.9 63.9L172.4 63.5L172.9 64L173.4 63.9L173.9 64.3L174.4 65.7L174.9 66.2L175.4 66.3L175.9 67.5L176.4 68L176.9 68L177.4 68.4L177.9 68.3L178.4 68.8L178.9 69.2L179.4 70.2L179.9 71.5L180.4 72.2L180.9 73L181.4 73.1L181.9 73.6L182.4 73.3L182.9 73.5L183.4 73L183.9 73L184.4 72.8L184.9 73.6L185.4 73.5L185.9 74.4L186.4 75.6L186.9 75.7L187.4 76L187.9 76.6L188.4 76.8L188.9 76.8L189.4 76.2L189.9 76.8L190.4 76.6L190.9 78L191.4 78.4L191.9 79.1L192.4 80.1L192.9 80.7L193.4 80.5L193.9 80.9L194.4 80L194.9 79L195.4 78.8L195.9 78.1L196.4 77.6L196.9 77.2L197.4 76.8L197.9 77.3L198.4 77.7L198.9 77.6L199.4 77.8L199.9 77.3L200.4 77.5L200.9 77.3L201.4 76.6L201.9 76.5L202.4 76.8L202.9 77.3L203.4 78L203.9 78.5L204.4 79L204.9 79.3L205.4 79.4L205.9 79.1L206.4 78.5L206.9 77.6L207.4 76.9L207.9 76L208.4 75.7L208.9 75.2L209.4 75.7L209.9 75.6L210.4 76.2L210.9 76.5L211.4 77.1L211.9 77.6L212.4 77.8L212.9 77.8L213.4 77.8L213.9 78.3L214.4 78.7L214.9 79.4L215.4 80.4L215.9 81L216.4 81.5L216.9 82.6L217.4 82.5L217.9 82.6L218.4 82.6L218.9 82L219.4 81.1L219.9 80.5L220.4 80.3L220.9 79.9L221.4 80.5L221.9 80.8L222.4 81.8L222.9 81.8L223.4 82.7L223.9 82.7L224.4 83.1L224.9 82.7L225.4 83L225.9 82.8L226.4 82.9L226.9 83.6L227.4 84.4L227.9 85.2L228.4 86.3L228.9 86.8L229.4 86.6L229.9 87.2L230.4 86.6L230.9 86.4L231.4 86L231.9 85L232.4 84.6L232.9 84.7L233.4 84.7L233.9 85.4L234.4 85.6L234.9 86.2L235.4 86.9L235.9 86.9L236.4 87.2L236.9 87.1L237.4 87.4L237.9 87.8L238.4 88.3L238.9 88.6L239.4 89.3L239.9 90.1L240.4 90.9L240.9 91.8L241.4 92.5L241.9 91.9L242.4 91.8L242.9 92.3L243.4 91.4L243.9 91.6L244.4 91.3L244.9 91.9L245.4 92.4L245.9 93L246.4 93.8L246.9 94.2L247.4 94.8L247.9 95.2L248.4 95.1L248.9 94.6L249.4 94.3L249.9 94.3L250.4 94.3L250.9 94.6L251.4 94.9L251.9 95.6L252.4 96L252.9 96.5L253.4 96.6L253.9 96.7L254.4 96.1L254.9 96.2L255.4 95.5L255.9 95.2L256.4 95.1L256.9 95.3L257.4 95.6L257.9 95.9L258.4 96.2L258.9 96.2L259.4 96.7L259.9 96.5L260.4 96.1L260.9 96.1L261.4 94.7L261.9 94.7L262.4 94.7L262.9 94.6L263.4 94.9L263.9 94.7L264.4 95.2L264.9 95.8L265.4 95.7L265.9 96L266.4 95.3L266.9 94.9L267.4 94.5L267.9 94.1L268.4 94.1L268.9 94.1L269.4 94.6L269.9 95L270.4 95.7L270.9 95.9L271.4 96.1L271.9 96.5L272.4 96.3L272.9 95.7L273.4 95.5L273.9 95.1L274.4 95.6L274.9 95.1L275.4 96.2L275.9 96.2L276.4 97.1L276.9 97.4L277.4 97.7L277.9 98.1L278.4 97.9L278.9 97.4L279.4 97L279.9 97.4L280.4 97.2L280.9 97.2L281.4 97.6L281.9 98.3L282.4 98.8L282.9 99.6L283.4 99.5L283.9 99.8L284.4 99.5L284.9 99.6L285.4 99.4L285.9 98.8L286.4 99L286.9 99.4L287.4 99.5L287.9 100L288.4 101L288.9 101.4L289.4 101.6L289.9 102L290.4 101.6L290.9 101L291.4 101.1L291.9 100.8L292.4 101.1L292.9 100.9L293.4 101.2L293.9 101.8L294.4 102.2L294.9 102.2L295.4 102.6L295.9 102.4L296.4 102.4L296.9 102.1L297.4 100.9L297.9 100.5L298.4 100.4L298.9 100.4L299.4 100.7L299.9 101.2L300.4 101.8L300.9 101.7L301.4 101.8L301.9 101.8L302.4 102.2L302.9 101.9L303.4 101L303.9 100.8L304.4 101.1L304.9 101.6L305.4 102L305.9 102.4L306.4 103.2L306.9 103.6L307.4 103.8L307.9 104.4L308.4 103.9L308.9 103.4L309.4 103.2L309.9 102.8L310.4 103.1L310.9 103.5L311.4 103.5L311.9 104.5L312.4 105.3L312.9 105.4L313.4 105.4L313.9 105.5L314.4 105.5L314.9 105L315.4 104.7L315.9 104.6L316.4 104.6L316.9 105L317.4 105L317.9 106.2L318.4 106.6L318.9 107.1L319.4 107.1L319.9 107.6L320.4 107L320.9 107.1L321.4 106.6L321.9 105.8L322.4 105.7L322.9 106.1L323.4 106L323.9 106L324.4 106.3L324.9 106.4L325.4 106.1L325.9 105.9L326.4 105.3L326.9 104.6L327.4 104.1L327.9 103.2L328.4 103.1L328.9 102.8L329.4 103L329.9 103.2L330.4 103.6L330.9 103.6L331.4 103.7L331.9 103.3L332.4 103.1L332.9 102.3L333.4 101.9L333.9 101.7L334.4 101.3L334.9 101.4L335.4 101.3L335.9 102.2L336.4 102.2" stroke="#3E9F12" stroke-width="1.75"/>
</g>
<path d="M119.90 140.4v-2.3M119.90 29.3v2.3M189.73 140.4v-2.3M189.73 29.3v2.3M259.57 140.4v-2.3M259.57 29.3v2.3M329.40 140.4v-2.3M329.40 29.3v2.3M110.4 116.70h2.3M336.4 116.70h-2.3M110.4 87.33h2.3M336.4 87.33h-2.3M110.4 57.95h2.3M336.4 57.95h-2.3" stroke="#444444" stroke-width="1" fill="none"/>
<rect x="110.4" y="29.3" width="226.0" height="111.1" fill="none" stroke="#444444" stroke-width="1"/>
<g font-family="'Liberation Sans', Arial, Helvetica, sans-serif" font-size="14.8" fill="#262626" stroke="#262626" stroke-width="0.3"><text x="105" y="122.0" text-anchor="end">0.25</text><text x="105" y="92.6" text-anchor="end">0.3</text><text x="105" y="63.3" text-anchor="end">0.35</text><text x="119.9" y="160.4" text-anchor="middle">410</text><text x="189.7" y="160.4" text-anchor="middle">420</text><text x="259.6" y="160.4" text-anchor="middle">430</text><text x="329.4" y="160.4" text-anchor="middle">440</text></g>
<rect x="417.6" y="23.7" width="104.4" height="74.7" fill="#fff" stroke="#444444" stroke-width="1"/>
<path d="M422.4 34.2H468.5" stroke="#7DBB45" stroke-width="1.5"/>
<text font-family="'Liberation Sans', Arial, Helvetica, sans-serif" font-size="13" fill="#262626" stroke="#262626" stroke-width="0.3" transform="translate(472.4 39.4) scale(0.92 1)">CPC</text>
<path d="M422.4 52.0H468.5" stroke="#3AA2DE" stroke-width="1.5"/>
<text font-family="'Liberation Sans', Arial, Helvetica, sans-serif" font-size="13" fill="#262626" stroke="#262626" stroke-width="0.3" transform="translate(472.4 57.2) scale(0.92 1)">Blade 1</text>
<path d="M422.4 69.7H468.5" stroke="#D9507A" stroke-width="1.5"/>
<text font-family="'Liberation Sans', Arial, Helvetica, sans-serif" font-size="13" fill="#262626" stroke="#262626" stroke-width="0.3" transform="translate(472.4 74.9) scale(0.92 1)">Blade 2</text>
<path d="M422.4 87.4H468.5" stroke="#F6C04E" stroke-width="1.5"/>
<text font-family="'Liberation Sans', Arial, Helvetica, sans-serif" font-size="13" fill="#262626" stroke="#262626" stroke-width="0.3" transform="translate(472.4 92.6) scale(0.92 1)">Blade 3</text>
</svg>
</div></body></html>
